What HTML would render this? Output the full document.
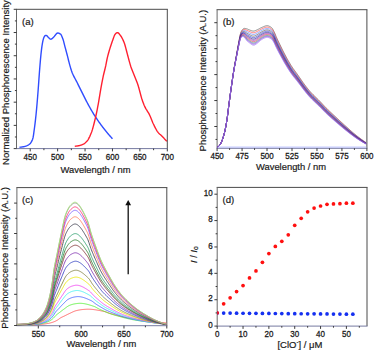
<!DOCTYPE html>
<html><head><meta charset="utf-8"><style>html,body{margin:0;padding:0;background:#fff;width:375px;height:351px;overflow:hidden}svg{display:block}</style></head>
<body><svg width="375" height="351" viewBox="0 0 375 351" font-family='"Liberation Sans", sans-serif' fill="#1a1a1a">
<rect width="375" height="351" fill="#fff"/>
<path d="M19.50 147.20L20.00 147.19L20.50 147.16L21.00 147.11L21.50 147.05L22.00 146.97L22.50 146.89L23.00 146.80L23.50 146.70L24.00 146.60L24.50 146.49L25.00 146.36L25.50 146.21L26.00 146.04L26.50 145.85L27.00 145.63L27.50 145.39L28.00 145.12L28.50 144.83L29.00 144.51L29.50 144.15L30.00 143.71L30.50 143.16L31.00 142.48L31.50 141.66L32.00 140.68L32.50 139.52L33.00 137.91L33.50 135.05L34.00 131.46L34.50 127.77L35.00 123.89L35.50 119.60L36.00 114.96L36.50 109.91L37.00 104.29L37.50 98.26L38.00 92.00L38.50 85.25L39.00 78.10L39.50 71.27L40.00 65.03L40.50 59.13L41.00 54.00L41.50 49.62L42.00 45.85L42.50 42.90L43.00 40.44L43.50 38.58L44.00 37.28L44.50 36.21L45.00 35.63L45.50 35.55L46.00 35.51L46.50 35.53L47.00 35.85L47.50 36.39L48.00 36.99L48.50 37.50L49.00 37.96L49.50 38.45L50.00 38.87L50.50 39.15L51.00 39.18L51.50 38.99L52.00 38.63L52.50 38.17L53.00 37.67L53.50 37.18L54.00 36.72L54.50 36.15L55.00 35.50L55.50 34.83L56.00 34.20L56.50 33.65L57.00 33.24L57.50 33.02L58.00 33.02L58.50 33.11L59.00 33.27L59.50 33.50L60.00 33.78L60.50 34.10L61.00 34.64L61.50 35.53L62.00 36.66L62.50 37.92L63.00 39.26L63.50 40.91L64.00 42.83L64.50 44.85L65.00 46.82L65.50 48.68L66.00 50.54L66.50 52.40L67.00 54.27L67.50 56.19L68.00 58.18L68.50 60.22L69.00 62.20L69.50 64.06L70.00 65.85L70.50 67.60L71.00 69.27L71.50 70.82L72.00 72.20L72.50 73.43L73.00 74.57L73.50 75.64L74.00 76.64L74.50 77.60L75.00 78.54L75.50 79.46L76.00 80.38L76.50 81.32L77.00 82.30L77.50 83.31L78.00 84.32L78.50 85.33L79.00 86.35L79.50 87.36L80.00 88.38L80.50 89.39L81.00 90.40L81.50 91.41L82.00 92.42L82.50 93.42L83.00 94.42L83.50 95.41L84.00 96.40L84.50 97.38L85.00 98.37L85.50 99.36L86.00 100.34L86.50 101.32L87.00 102.28L87.50 103.23L88.00 104.17L88.50 105.08L89.00 105.99L89.50 106.88L90.00 107.77L90.50 108.66L91.00 109.53L91.50 110.40L92.00 111.26L92.50 112.11L93.00 112.94L93.50 113.77L94.00 114.58L94.50 115.38L95.00 116.17L95.50 116.95L96.00 117.71L96.50 118.46L97.00 119.20L97.50 119.93L98.00 120.66L98.50 121.37L99.00 122.08L99.50 122.77L100.00 123.46L100.50 124.15L101.00 124.82L101.50 125.49L102.00 126.15L102.50 126.81L103.00 127.46L103.50 128.11L104.00 128.75L104.50 129.38L105.00 130.01L105.50 130.64L106.00 131.25L106.50 131.87L107.00 132.48L107.50 133.08L108.00 133.68L108.50 134.27L109.00 134.86L109.50 135.43L110.00 136.01L110.50 136.58L111.00 137.14L111.50 137.69L112.00 138.24L112.50 138.78" fill="none" stroke="#2f4cff" stroke-width="1.4" stroke-linejoin="round"/>
<path d="M74.80 146.20L75.30 146.19L75.80 146.16L76.30 146.12L76.80 146.06L77.30 145.99L77.80 145.91L78.30 145.81L78.80 145.70L79.30 145.58L79.80 145.45L80.30 145.31L80.80 145.17L81.30 145.02L81.80 144.86L82.30 144.70L82.80 144.48L83.30 144.23L83.80 143.92L84.30 143.58L84.80 143.20L85.30 142.78L85.80 142.33L86.30 141.84L86.80 141.32L87.30 140.77L87.80 140.11L88.30 139.32L88.80 138.43L89.30 137.44L89.80 136.37L90.30 135.22L90.80 134.01L91.30 132.76L91.80 131.41L92.30 129.89L92.80 128.23L93.30 126.43L93.80 124.52L94.30 122.53L94.80 120.47L95.30 118.37L95.80 116.24L96.30 113.98L96.80 111.59L97.30 109.08L97.80 106.49L98.30 103.81L98.80 100.95L99.30 97.94L99.80 94.88L100.30 91.84L100.80 88.92L101.30 86.16L101.80 83.46L102.30 80.83L102.80 78.32L103.30 75.94L103.80 73.75L104.30 71.71L104.80 69.71L105.30 67.66L105.80 65.47L106.30 62.95L106.80 60.25L107.30 57.94L107.80 55.89L108.30 53.98L108.80 52.19L109.30 50.48L109.80 48.83L110.30 47.22L110.80 45.67L111.30 44.18L111.80 42.75L112.30 41.35L112.80 40.00L113.30 38.59L113.80 37.13L114.30 35.79L114.80 34.73L115.30 34.07L115.80 33.54L116.30 33.08L116.80 32.75L117.30 32.60L117.80 32.67L118.30 32.96L118.80 33.40L119.30 33.97L119.80 34.63L120.30 35.32L120.80 36.00L121.30 36.72L121.80 37.55L122.30 38.48L122.80 39.50L123.30 40.61L123.80 41.80L124.30 43.06L124.80 44.54L125.30 46.23L125.80 48.08L126.30 50.02L126.80 51.98L127.30 53.90L127.80 55.73L128.30 57.59L128.80 59.48L129.30 61.36L129.80 63.19L130.30 64.91L130.80 66.50L131.30 67.94L131.80 69.29L132.30 70.57L132.80 71.80L133.30 73.00L133.80 74.21L134.30 75.44L134.80 76.71L135.30 77.96L135.80 79.20L136.30 80.45L136.80 81.73L137.30 83.07L137.80 84.50L138.30 86.07L138.80 87.80L139.30 89.63L139.80 91.52L140.30 93.42L140.80 95.29L141.30 97.09L141.80 98.77L142.30 100.29L142.80 101.71L143.30 103.07L143.80 104.36L144.30 105.56L144.80 106.68L145.30 107.70L145.80 108.61L146.30 109.45L146.80 110.24L147.30 111.01L147.80 111.78L148.30 112.59L148.80 113.45L149.30 114.40L149.80 115.45L150.30 116.59L150.80 117.80L151.30 119.03L151.80 120.28L152.30 121.50L152.80 122.68L153.30 123.78L153.80 124.81L154.30 125.83L154.80 126.84L155.30 127.83L155.80 128.78L156.30 129.69L156.80 130.54L157.30 131.31L157.80 132.00L158.30 132.61L158.80 133.16L159.30 133.67L159.80 134.15L160.30 134.60L160.80 135.06L161.30 135.51L161.80 136.00L162.30 136.51L162.80 137.03L163.30 137.56L163.80 138.09L164.30 138.63L164.80 139.17L165.30 139.71L165.80 140.26L166.30 140.82L166.80 141.38" fill="none" stroke="#ff2030" stroke-width="1.4" stroke-linejoin="round"/>
<line x1="16.0" y1="9.3" x2="167.8" y2="9.3" stroke="#4a4a4a" stroke-width="1"/>
<line x1="167.3" y1="9.3" x2="167.3" y2="148.6" stroke="#4a4a4a" stroke-width="1"/>
<line x1="16.5" y1="9.3" x2="16.5" y2="148.6" stroke="#686868" stroke-width="1"/>
<line x1="16.0" y1="148.6" x2="167.8" y2="148.6" stroke="#767aa0" stroke-width="1"/>
<line x1="30.21" y1="148.6" x2="30.21" y2="151.4" stroke="#252525" stroke-width="0.9"/>
<line x1="57.63" y1="148.6" x2="57.63" y2="151.4" stroke="#252525" stroke-width="0.9"/>
<line x1="85.05" y1="148.6" x2="85.05" y2="151.4" stroke="#252525" stroke-width="0.9"/>
<line x1="112.46" y1="148.6" x2="112.46" y2="151.4" stroke="#252525" stroke-width="0.9"/>
<line x1="139.88" y1="148.6" x2="139.88" y2="151.4" stroke="#252525" stroke-width="0.9"/>
<line x1="167.30" y1="148.6" x2="167.30" y2="151.4" stroke="#252525" stroke-width="0.9"/>
<line x1="43.92" y1="148.6" x2="43.92" y2="150.2" stroke="#252525" stroke-width="0.9"/>
<line x1="71.34" y1="148.6" x2="71.34" y2="150.2" stroke="#252525" stroke-width="0.9"/>
<line x1="98.75" y1="148.6" x2="98.75" y2="150.2" stroke="#252525" stroke-width="0.9"/>
<line x1="126.17" y1="148.6" x2="126.17" y2="150.2" stroke="#252525" stroke-width="0.9"/>
<line x1="153.59" y1="148.6" x2="153.59" y2="150.2" stroke="#252525" stroke-width="0.9"/>
<line x1="16.5" y1="148.60" x2="13.7" y2="148.60" stroke="#252525" stroke-width="0.9"/>
<line x1="16.5" y1="125.38" x2="13.7" y2="125.38" stroke="#252525" stroke-width="0.9"/>
<line x1="16.5" y1="102.17" x2="13.7" y2="102.17" stroke="#252525" stroke-width="0.9"/>
<line x1="16.5" y1="78.95" x2="13.7" y2="78.95" stroke="#252525" stroke-width="0.9"/>
<line x1="16.5" y1="55.73" x2="13.7" y2="55.73" stroke="#252525" stroke-width="0.9"/>
<line x1="16.5" y1="32.52" x2="13.7" y2="32.52" stroke="#252525" stroke-width="0.9"/>
<line x1="16.5" y1="9.30" x2="13.7" y2="9.30" stroke="#252525" stroke-width="0.9"/>
<line x1="16.5" y1="136.99" x2="14.9" y2="136.99" stroke="#252525" stroke-width="0.9"/>
<line x1="16.5" y1="113.78" x2="14.9" y2="113.78" stroke="#252525" stroke-width="0.9"/>
<line x1="16.5" y1="90.56" x2="14.9" y2="90.56" stroke="#252525" stroke-width="0.9"/>
<line x1="16.5" y1="67.34" x2="14.9" y2="67.34" stroke="#252525" stroke-width="0.9"/>
<line x1="16.5" y1="44.12" x2="14.9" y2="44.12" stroke="#252525" stroke-width="0.9"/>
<line x1="16.5" y1="20.91" x2="14.9" y2="20.91" stroke="#252525" stroke-width="0.9"/>
<text transform="translate(30.21,160.00) scale(1,1.07)" font-size="8" stroke="#1a1a1a" stroke-width="0.26" text-anchor="middle" >450</text>
<text transform="translate(57.63,160.00) scale(1,1.07)" font-size="8" stroke="#1a1a1a" stroke-width="0.26" text-anchor="middle" >500</text>
<text transform="translate(85.05,160.00) scale(1,1.07)" font-size="8" stroke="#1a1a1a" stroke-width="0.26" text-anchor="middle" >550</text>
<text transform="translate(112.46,160.00) scale(1,1.07)" font-size="8" stroke="#1a1a1a" stroke-width="0.26" text-anchor="middle" >600</text>
<text transform="translate(139.88,160.00) scale(1,1.07)" font-size="8" stroke="#1a1a1a" stroke-width="0.26" text-anchor="middle" >650</text>
<text transform="translate(167.30,160.00) scale(1,1.07)" font-size="8" stroke="#1a1a1a" stroke-width="0.26" text-anchor="middle" >700</text>
<text x="60.60" y="172.80" font-size="9.4" stroke="#1a1a1a" stroke-width="0.2" text-anchor="start" >Wavelength / nm</text>
<text transform="translate(8.90,164.90) rotate(-90)" font-size="9.5" stroke="#1a1a1a" stroke-width="0.2" text-anchor="start" >Normalized Phosphorescence Intensity</text>
<text x="22.00" y="24.50" font-size="9.6" stroke="#1a1a1a" stroke-width="0.2" text-anchor="start" >(a)</text>
<line x1="216.6" y1="9.7" x2="367.4" y2="9.7" stroke="#4a4a4a" stroke-width="1"/>
<line x1="366.9" y1="9.7" x2="366.9" y2="148.3" stroke="#4a4a4a" stroke-width="1"/>
<line x1="217.1" y1="9.7" x2="217.1" y2="148.3" stroke="#686868" stroke-width="1"/>
<line x1="216.6" y1="148.3" x2="367.4" y2="148.3" stroke="#767aa0" stroke-width="1"/>
<line x1="217.6" y1="147.1" x2="366.4" y2="147.1" stroke="#b0b8ff" stroke-width="0.9"/>
<path d="M217.10 147.50L217.60 147.22L218.10 146.85L218.60 146.40L219.10 145.89L219.60 145.29L220.10 144.57L220.60 143.74L221.10 142.80L221.60 141.72L222.10 140.48L222.60 139.09L223.10 137.56L223.60 135.90L224.10 134.12L224.60 132.21L225.10 130.04L225.60 127.58L226.10 124.88L226.60 121.97L227.10 118.85L227.60 115.20L228.10 111.13L228.60 107.05L229.10 103.24L229.60 99.51L230.10 95.82L230.60 92.19L231.10 88.61L231.60 85.10L232.10 81.60L232.60 78.14L233.10 74.76L233.60 71.50L234.10 68.39L234.60 65.47L235.10 62.67L235.60 59.94L236.10 57.22L236.60 54.44L237.10 51.57L237.60 48.68L238.10 45.83L238.60 43.06L239.10 40.37L239.60 37.59L240.10 35.10L240.60 33.30L241.10 31.93L241.60 30.81L242.10 30.01L242.60 29.48L243.10 29.02L243.60 28.65L244.10 28.44L244.60 28.40L245.10 28.45L245.60 28.54L246.10 28.66L246.60 28.79L247.10 28.93L247.60 29.12L248.10 29.35L248.60 29.59L249.10 29.80L249.60 29.99L250.10 30.19L250.60 30.39L251.10 30.59L251.60 30.77L252.10 30.91L252.60 31.03L253.10 31.09L253.60 31.09L254.10 31.03L254.60 30.91L255.10 30.73L255.60 30.53L256.10 30.30L256.60 30.06L257.10 29.82L257.60 29.60L258.10 29.37L258.60 29.12L259.10 28.85L259.60 28.57L260.10 28.29L260.60 28.02L261.10 27.76L261.60 27.53L262.10 27.32L262.60 27.11L263.10 26.88L263.60 26.66L264.10 26.45L264.60 26.25L265.10 26.07L265.60 25.92L266.10 25.80L266.60 25.73L267.10 25.70L267.60 25.73L268.10 25.82L268.60 25.97L269.10 26.16L269.60 26.40L270.10 26.67L270.60 26.97L271.10 27.30L271.60 27.66L272.10 28.21L272.60 28.95L273.10 29.81L273.60 30.74L274.10 31.69L274.60 32.78L275.10 34.01L275.60 35.25L276.10 36.43L276.60 37.54L277.10 38.64L277.60 39.73L278.10 40.80L278.60 41.87L279.10 42.92L279.60 43.96L280.10 45.00L280.60 46.03L281.10 47.06L281.60 48.08L282.10 49.10L282.60 50.11L283.10 51.11L283.60 52.09L284.10 53.07L284.60 54.03L285.10 54.98L285.60 55.92L286.10 56.83L286.60 57.75L287.10 58.65L287.60 59.54L288.10 60.43L288.60 61.30L289.10 62.16L289.60 63.01L290.10 63.84L290.60 64.66L291.10 65.46L291.60 66.25L292.10 67.01L292.60 67.75L293.10 68.47L293.60 69.17L294.10 69.86L294.60 70.54L295.10 71.22L295.60 71.90L296.10 72.58L296.60 73.26L297.10 73.96L297.60 74.67L298.10 75.38L298.60 76.10L299.10 76.83L299.60 77.56L300.10 78.28L300.60 79.01L301.10 79.74L301.60 80.46L302.10 81.18L302.60 81.89L303.10 82.59L303.60 83.28L304.10 83.96L304.60 84.63L305.10 85.30L305.60 85.96L306.10 86.61L306.60 87.26L307.10 87.90L307.60 88.53L308.10 89.15L308.60 89.76L309.10 90.36L309.60 90.94L310.10 91.51L310.60 92.07L311.10 92.60L311.60 93.13L312.10 93.65L312.60 94.16L313.10 94.66L313.60 95.15L314.10 95.64L314.60 96.12L315.10 96.60L315.60 97.08L316.10 97.56L316.60 98.04L317.10 98.52L317.60 99.00L318.10 99.49L318.60 99.98L319.10 100.48L319.60 100.99L320.10 101.50L320.60 102.03L321.10 102.57L321.60 103.11L322.10 103.66L322.60 104.21L323.10 104.76L323.60 105.30L324.10 105.84L324.60 106.37L325.10 106.89L325.60 107.40L326.10 107.90L326.60 108.40L327.10 108.89L327.60 109.38L328.10 109.86L328.60 110.34L329.10 110.82L329.60 111.29L330.10 111.76L330.60 112.23L331.10 112.70L331.60 113.16L332.10 113.63L332.60 114.09L333.10 114.55L333.60 115.02L334.10 115.48L334.60 115.95L335.10 116.41L335.60 116.88L336.10 117.35L336.60 117.82L337.10 118.28L337.60 118.75L338.10 119.21L338.60 119.68L339.10 120.14L339.60 120.61L340.10 121.07L340.60 121.53L341.10 121.99L341.60 122.46L342.10 122.91L342.60 123.37L343.10 123.83L343.60 124.28L344.10 124.74L344.60 125.19L345.10 125.64L345.60 126.09L346.10 126.54L346.60 126.99L347.10 127.44L347.60 127.89L348.10 128.34L348.60 128.79L349.10 129.24L349.60 129.69L350.10 130.13L350.60 130.58L351.10 131.02L351.60 131.46L352.10 131.89L352.60 132.33L353.10 132.76L353.60 133.18L354.10 133.60L354.60 134.02L355.10 134.43L355.60 134.84L356.10 135.24L356.60 135.64L357.10 136.04L357.60 136.43L358.10 136.82L358.60 137.21L359.10 137.59L359.60 137.97L360.10 138.35L360.60 138.73L361.10 139.10L361.60 139.47L362.10 139.84L362.60 140.20L363.10 140.57L363.60 140.92L364.10 141.28L364.60 141.63L365.10 141.98L365.60 142.32L366.10 142.66" fill="none" stroke="#606060" stroke-width="0.7"/>
<path d="M217.10 147.50L217.60 147.22L218.10 146.85L218.60 146.40L219.10 145.89L219.60 145.29L220.10 144.57L220.60 143.74L221.10 142.80L221.60 141.72L222.10 140.48L222.60 139.09L223.10 137.56L223.60 135.90L224.10 134.12L224.60 132.21L225.10 130.04L225.60 127.58L226.10 124.88L226.60 121.97L227.10 118.85L227.60 115.20L228.10 111.13L228.60 107.05L229.10 103.24L229.60 99.51L230.10 95.82L230.60 92.19L231.10 88.62L231.60 85.11L232.10 81.63L232.60 78.18L233.10 74.82L233.60 71.57L234.10 68.49L234.60 65.58L235.10 62.81L235.60 60.11L236.10 57.42L236.60 54.67L237.10 51.84L237.60 48.99L238.10 46.18L238.60 43.47L239.10 40.82L239.60 38.10L240.10 35.67L240.60 33.92L241.10 32.60L241.60 31.54L242.10 30.80L242.60 30.33L243.10 29.93L243.60 29.63L244.10 29.48L244.60 29.51L245.10 29.62L245.60 29.78L246.10 29.97L246.60 30.18L247.10 30.38L247.60 30.59L248.10 30.84L248.60 31.10L249.10 31.33L249.60 31.55L250.10 31.77L250.60 31.99L251.10 32.21L251.60 32.41L252.10 32.57L252.60 32.70L253.10 32.77L253.60 32.78L254.10 32.72L254.60 32.59L255.10 32.42L255.60 32.20L256.10 31.96L256.60 31.70L257.10 31.44L257.60 31.20L258.10 30.95L258.60 30.68L259.10 30.39L259.60 30.09L260.10 29.79L260.60 29.50L261.10 29.23L261.60 28.98L262.10 28.76L262.60 28.53L263.10 28.31L263.60 28.08L264.10 27.86L264.60 27.66L265.10 27.48L265.60 27.32L266.10 27.20L266.60 27.13L267.10 27.10L267.60 27.13L268.10 27.22L268.60 27.36L269.10 27.56L269.60 27.79L270.10 28.06L270.60 28.35L271.10 28.68L271.60 29.03L272.10 29.58L272.60 30.31L273.10 31.16L273.60 32.08L274.10 33.02L274.60 34.10L275.10 35.31L275.60 36.54L276.10 37.70L276.60 38.80L277.10 39.89L277.60 40.97L278.10 42.03L278.60 43.08L279.10 44.12L279.60 45.15L280.10 46.18L280.60 47.20L281.10 48.21L281.60 49.22L282.10 50.23L282.60 51.23L283.10 52.21L283.60 53.19L284.10 54.16L284.60 55.11L285.10 56.05L285.60 56.97L286.10 57.88L286.60 58.78L287.10 59.67L287.60 60.56L288.10 61.43L288.60 62.29L289.10 63.15L289.60 63.98L290.10 64.81L290.60 65.62L291.10 66.41L291.60 67.18L292.10 67.93L292.60 68.66L293.10 69.38L293.60 70.07L294.10 70.75L294.60 71.43L295.10 72.10L295.60 72.77L296.10 73.44L296.60 74.12L297.10 74.81L297.60 75.51L298.10 76.21L298.60 76.93L299.10 77.64L299.60 78.36L300.10 79.08L300.60 79.80L301.10 80.52L301.60 81.24L302.10 81.95L302.60 82.65L303.10 83.35L303.60 84.04L304.10 84.71L304.60 85.38L305.10 86.04L305.60 86.69L306.10 87.35L306.60 87.99L307.10 88.63L307.60 89.26L308.10 89.87L308.60 90.48L309.10 91.08L309.60 91.66L310.10 92.22L310.60 92.77L311.10 93.31L311.60 93.83L312.10 94.35L312.60 94.86L313.10 95.36L313.60 95.85L314.10 96.33L314.60 96.82L315.10 97.29L315.60 97.77L316.10 98.25L316.60 98.72L317.10 99.20L317.60 99.68L318.10 100.17L318.60 100.66L319.10 101.16L319.60 101.66L320.10 102.18L320.60 102.70L321.10 103.24L321.60 103.78L322.10 104.32L322.60 104.87L323.10 105.41L323.60 105.96L324.10 106.49L324.60 107.02L325.10 107.54L325.60 108.05L326.10 108.55L326.60 109.04L327.10 109.53L327.60 110.01L328.10 110.49L328.60 110.97L329.10 111.44L329.60 111.91L330.10 112.38L330.60 112.85L331.10 113.31L331.60 113.77L332.10 114.23L332.60 114.69L333.10 115.15L333.60 115.61L334.10 116.08L334.60 116.54L335.10 117.00L335.60 117.46L336.10 117.93L336.60 118.39L337.10 118.85L337.60 119.31L338.10 119.78L338.60 120.24L339.10 120.70L339.60 121.16L340.10 121.61L340.60 122.07L341.10 122.53L341.60 122.98L342.10 123.44L342.60 123.89L343.10 124.34L343.60 124.79L344.10 125.24L344.60 125.68L345.10 126.13L345.60 126.57L346.10 127.02L346.60 127.46L347.10 127.90L347.60 128.35L348.10 128.79L348.60 129.23L349.10 129.68L349.60 130.12L350.10 130.56L350.60 130.99L351.10 131.43L351.60 131.86L352.10 132.29L352.60 132.71L353.10 133.14L353.60 133.55L354.10 133.97L354.60 134.38L355.10 134.78L355.60 135.18L356.10 135.57L356.60 135.96L357.10 136.35L357.60 136.74L358.10 137.12L358.60 137.50L359.10 137.88L359.60 138.25L360.10 138.62L360.60 138.99L361.10 139.36L361.60 139.72L362.10 140.08L362.60 140.43L363.10 140.78L363.60 141.13L364.10 141.48L364.60 141.82L365.10 142.16L365.60 142.50L366.10 142.83" fill="none" stroke="#ff4040" stroke-width="0.7"/>
<path d="M217.10 147.50L217.60 147.22L218.10 146.85L218.60 146.40L219.10 145.89L219.60 145.29L220.10 144.57L220.60 143.74L221.10 142.80L221.60 141.72L222.10 140.48L222.60 139.09L223.10 137.56L223.60 135.90L224.10 134.12L224.60 132.21L225.10 130.04L225.60 127.58L226.10 124.88L226.60 121.97L227.10 118.85L227.60 115.20L228.10 111.13L228.60 107.05L229.10 103.24L229.60 99.51L230.10 95.82L230.60 92.20L231.10 88.63L231.60 85.13L232.10 81.65L232.60 78.22L233.10 74.87L233.60 71.65L234.10 68.58L234.60 65.70L235.10 62.96L235.60 60.28L236.10 57.62L236.60 54.91L237.10 52.12L237.60 49.31L238.10 46.54L238.60 43.87L239.10 41.28L239.60 38.61L240.10 36.23L240.60 34.54L241.10 33.28L241.60 32.27L242.10 31.59L242.60 31.18L243.10 30.84L243.60 30.60L244.10 30.51L244.60 30.61L245.10 30.79L245.60 31.02L246.10 31.29L246.60 31.57L247.10 31.84L247.60 32.06L248.10 32.33L248.60 32.61L249.10 32.87L249.60 33.10L250.10 33.35L250.60 33.60L251.10 33.83L251.60 34.05L252.10 34.23L252.60 34.37L253.10 34.45L253.60 34.47L254.10 34.41L254.60 34.28L255.10 34.10L255.60 33.87L256.10 33.61L256.60 33.34L257.10 33.07L257.60 32.80L258.10 32.53L258.60 32.24L259.10 31.92L259.60 31.60L260.10 31.29L260.60 30.98L261.10 30.69L261.60 30.43L262.10 30.19L262.60 29.96L263.10 29.73L263.60 29.49L264.10 29.27L264.60 29.07L265.10 28.88L265.60 28.73L266.10 28.61L266.60 28.53L267.10 28.50L267.60 28.53L268.10 28.62L268.60 28.76L269.10 28.95L269.60 29.18L270.10 29.44L270.60 29.74L271.10 30.05L271.60 30.41L272.10 30.95L272.60 31.67L273.10 32.51L273.60 33.42L274.10 34.35L274.60 35.42L275.10 36.61L275.60 37.83L276.10 38.98L276.60 40.07L277.10 41.14L277.60 42.21L278.10 43.26L278.60 44.29L279.10 45.32L279.60 46.34L280.10 47.36L280.60 48.36L281.10 49.37L281.60 50.37L282.10 51.36L282.60 52.34L283.10 53.32L283.60 54.29L284.10 55.24L284.60 56.18L285.10 57.11L285.60 58.02L286.10 58.92L286.60 59.81L287.10 60.69L287.60 61.57L288.10 62.43L288.60 63.29L289.10 64.13L289.60 64.96L290.10 65.77L290.60 66.57L291.10 67.35L291.60 68.12L292.10 68.86L292.60 69.58L293.10 70.29L293.60 70.97L294.10 71.65L294.60 72.32L295.10 72.98L295.60 73.64L296.10 74.30L296.60 74.97L297.10 75.65L297.60 76.35L298.10 77.04L298.60 77.75L299.10 78.46L299.60 79.17L300.10 79.88L300.60 80.59L301.10 81.31L301.60 82.01L302.10 82.72L302.60 83.42L303.10 84.11L303.60 84.79L304.10 85.47L304.60 86.13L305.10 86.78L305.60 87.43L306.10 88.08L306.60 88.72L307.10 89.35L307.60 89.98L308.10 90.59L308.60 91.20L309.10 91.79L309.60 92.37L310.10 92.93L310.60 93.48L311.10 94.01L311.60 94.54L312.10 95.05L312.60 95.56L313.10 96.05L313.60 96.54L314.10 97.03L314.60 97.51L315.10 97.99L315.60 98.46L316.10 98.94L316.60 99.41L317.10 99.89L317.60 100.37L318.10 100.85L318.60 101.34L319.10 101.84L319.60 102.34L320.10 102.85L320.60 103.38L321.10 103.91L321.60 104.45L322.10 104.99L322.60 105.53L323.10 106.07L323.60 106.61L324.10 107.15L324.60 107.67L325.10 108.19L325.60 108.69L326.10 109.19L326.60 109.68L327.10 110.16L327.60 110.65L328.10 111.12L328.60 111.60L329.10 112.07L329.60 112.54L330.10 113.00L330.60 113.46L331.10 113.92L331.60 114.38L332.10 114.84L332.60 115.30L333.10 115.76L333.60 116.21L334.10 116.67L334.60 117.13L335.10 117.59L335.60 118.05L336.10 118.50L336.60 118.96L337.10 119.42L337.60 119.88L338.10 120.34L338.60 120.79L339.10 121.25L339.60 121.70L340.10 122.16L340.60 122.61L341.10 123.06L341.60 123.51L342.10 123.96L342.60 124.41L343.10 124.85L343.60 125.30L344.10 125.74L344.60 126.18L345.10 126.62L345.60 127.06L346.10 127.49L346.60 127.93L347.10 128.37L347.60 128.81L348.10 129.24L348.60 129.68L349.10 130.11L349.60 130.55L350.10 130.98L350.60 131.41L351.10 131.84L351.60 132.26L352.10 132.68L352.60 133.10L353.10 133.51L353.60 133.93L354.10 134.33L354.60 134.73L355.10 135.13L355.60 135.52L356.10 135.91L356.60 136.29L357.10 136.67L357.60 137.05L358.10 137.42L358.60 137.79L359.10 138.16L359.60 138.53L360.10 138.89L360.60 139.25L361.10 139.61L361.60 139.96L362.10 140.31L362.60 140.66L363.10 141.00L363.60 141.34L364.10 141.68L364.60 142.01L365.10 142.35L365.60 142.67L366.10 143.00" fill="none" stroke="#6080ff" stroke-width="0.7"/>
<path d="M217.10 147.50L217.60 147.22L218.10 146.85L218.60 146.40L219.10 145.89L219.60 145.29L220.10 144.57L220.60 143.74L221.10 142.80L221.60 141.72L222.10 140.48L222.60 139.09L223.10 137.56L223.60 135.90L224.10 134.12L224.60 132.21L225.10 130.04L225.60 127.58L226.10 124.88L226.60 121.97L227.10 118.85L227.60 115.20L228.10 111.13L228.60 107.05L229.10 103.24L229.60 99.51L230.10 95.82L230.60 92.20L231.10 88.64L231.60 85.15L232.10 81.68L232.60 78.26L233.10 74.93L233.60 71.72L234.10 68.67L234.60 65.82L235.10 63.10L235.60 60.46L236.10 57.82L236.60 55.14L237.10 52.39L237.60 49.62L238.10 46.90L238.60 44.28L239.10 41.73L239.60 39.11L240.10 36.79L240.60 35.16L241.10 33.95L241.60 33.00L242.10 32.38L242.60 32.03L243.10 31.75L243.60 31.57L244.10 31.55L244.60 31.71L245.10 31.96L245.60 32.26L246.10 32.60L246.60 32.96L247.10 33.30L247.60 33.54L248.10 33.83L248.60 34.13L249.10 34.40L249.60 34.66L250.10 34.93L250.60 35.20L251.10 35.45L251.60 35.69L252.10 35.88L252.60 36.04L253.10 36.13L253.60 36.15L254.10 36.10L254.60 35.97L255.10 35.78L255.60 35.54L256.10 35.27L256.60 34.98L257.10 34.69L257.60 34.40L258.10 34.11L258.60 33.79L259.10 33.46L259.60 33.12L260.10 32.78L260.60 32.46L261.10 32.15L261.60 31.88L262.10 31.63L262.60 31.39L263.10 31.15L263.60 30.91L264.10 30.68L264.60 30.47L265.10 30.29L265.60 30.13L266.10 30.01L266.60 29.93L267.10 29.90L267.60 29.93L268.10 30.02L268.60 30.16L269.10 30.34L269.60 30.57L270.10 30.83L270.60 31.12L271.10 31.43L271.60 31.78L272.10 32.32L272.60 33.03L273.10 33.86L273.60 34.76L274.10 35.68L274.60 36.73L275.10 37.91L275.60 39.12L276.10 40.25L276.60 41.33L277.10 42.39L277.60 43.44L278.10 44.48L278.60 45.51L279.10 46.52L279.60 47.53L280.10 48.53L280.60 49.53L281.10 50.52L281.60 51.51L282.10 52.49L282.60 53.46L283.10 54.43L283.60 55.38L284.10 56.33L284.60 57.26L285.10 58.17L285.60 59.08L286.10 59.96L286.60 60.84L287.10 61.72L287.60 62.58L288.10 63.43L288.60 64.28L289.10 65.11L289.60 65.93L290.10 66.73L290.60 67.52L291.10 68.30L291.60 69.05L292.10 69.79L292.60 70.50L293.10 71.20L293.60 71.88L294.10 72.54L294.60 73.20L295.10 73.86L295.60 74.51L296.10 75.17L296.60 75.83L297.10 76.50L297.60 77.19L298.10 77.88L298.60 78.57L299.10 79.27L299.60 79.97L300.10 80.68L300.60 81.38L301.10 82.09L301.60 82.79L302.10 83.49L302.60 84.19L303.10 84.87L303.60 85.55L304.10 86.22L304.60 86.87L305.10 87.52L305.60 88.17L306.10 88.81L306.60 89.45L307.10 90.08L307.60 90.70L308.10 91.31L308.60 91.91L309.10 92.50L309.60 93.08L310.10 93.64L310.60 94.18L311.10 94.72L311.60 95.24L312.10 95.75L312.60 96.25L313.10 96.75L313.60 97.24L314.10 97.72L314.60 98.20L315.10 98.68L315.60 99.15L316.10 99.62L316.60 100.10L317.10 100.57L317.60 101.05L318.10 101.54L318.60 102.02L319.10 102.52L319.60 103.02L320.10 103.53L320.60 104.05L321.10 104.58L321.60 105.11L322.10 105.65L322.60 106.19L323.10 106.73L323.60 107.27L324.10 107.80L324.60 108.32L325.10 108.83L325.60 109.33L326.10 109.83L326.60 110.32L327.10 110.80L327.60 111.28L328.10 111.75L328.60 112.23L329.10 112.69L329.60 113.16L330.10 113.62L330.60 114.08L331.10 114.54L331.60 114.99L332.10 115.45L332.60 115.90L333.10 116.36L333.60 116.81L334.10 117.26L334.60 117.72L335.10 118.17L335.60 118.63L336.10 119.08L336.60 119.54L337.10 119.99L337.60 120.45L338.10 120.90L338.60 121.35L339.10 121.80L339.60 122.25L340.10 122.70L340.60 123.15L341.10 123.59L341.60 124.04L342.10 124.48L342.60 124.92L343.10 125.36L343.60 125.80L344.10 126.24L344.60 126.67L345.10 127.11L345.60 127.54L346.10 127.97L346.60 128.40L347.10 128.83L347.60 129.26L348.10 129.69L348.60 130.12L349.10 130.55L349.60 130.98L350.10 131.40L350.60 131.83L351.10 132.25L351.60 132.66L352.10 133.08L352.60 133.49L353.10 133.89L353.60 134.30L354.10 134.70L354.60 135.09L355.10 135.48L355.60 135.86L356.10 136.24L356.60 136.62L357.10 136.99L357.60 137.36L358.10 137.72L358.60 138.09L359.10 138.45L359.60 138.81L360.10 139.16L360.60 139.51L361.10 139.86L361.60 140.21L362.10 140.55L362.60 140.89L363.10 141.22L363.60 141.55L364.10 141.88L364.60 142.21L365.10 142.53L365.60 142.85L366.10 143.16" fill="none" stroke="#505050" stroke-width="0.7"/>
<path d="M217.10 147.50L217.60 147.22L218.10 146.85L218.60 146.40L219.10 145.89L219.60 145.29L220.10 144.57L220.60 143.74L221.10 142.80L221.60 141.72L222.10 140.48L222.60 139.09L223.10 137.56L223.60 135.90L224.10 134.12L224.60 132.21L225.10 130.04L225.60 127.58L226.10 124.88L226.60 121.97L227.10 118.85L227.60 115.20L228.10 111.13L228.60 107.05L229.10 103.24L229.60 99.51L230.10 95.82L230.60 92.20L231.10 88.65L231.60 85.16L232.10 81.70L232.60 78.30L233.10 74.98L233.60 71.79L234.10 68.76L234.60 65.92L235.10 63.23L235.60 60.61L236.10 58.01L236.60 55.36L237.10 52.64L237.60 49.91L238.10 47.22L238.60 44.65L239.10 42.15L239.60 39.58L240.10 37.31L240.60 35.72L241.10 34.57L241.60 33.68L242.10 33.11L242.60 32.81L243.10 32.58L243.60 32.46L244.10 32.50L244.60 32.72L245.10 33.04L245.60 33.40L246.10 33.80L246.60 34.23L247.10 34.63L247.60 34.89L248.10 35.19L248.60 35.51L249.10 35.81L249.60 36.08L250.10 36.37L250.60 36.66L251.10 36.94L251.60 37.19L252.10 37.40L252.60 37.57L253.10 37.67L253.60 37.70L254.10 37.64L254.60 37.51L255.10 37.32L255.60 37.07L256.10 36.79L256.60 36.49L257.10 36.18L257.60 35.87L258.10 35.56L258.60 35.22L259.10 34.87L259.60 34.51L260.10 34.15L260.60 33.81L261.10 33.49L261.60 33.20L262.10 32.95L262.60 32.70L263.10 32.45L263.60 32.21L264.10 31.98L264.60 31.76L265.10 31.58L265.60 31.42L266.10 31.30L266.60 31.22L267.10 31.19L267.60 31.21L268.10 31.30L268.60 31.43L269.10 31.62L269.60 31.84L270.10 32.10L270.60 32.39L271.10 32.70L271.60 33.05L272.10 33.58L272.60 34.28L273.10 35.10L273.60 35.99L274.10 36.90L274.60 37.94L275.10 39.11L275.60 40.30L276.10 41.42L276.60 42.49L277.10 43.54L277.60 44.58L278.10 45.60L278.60 46.62L279.10 47.63L279.60 48.62L280.10 49.61L280.60 50.60L281.10 51.58L281.60 52.56L282.10 53.53L282.60 54.49L283.10 55.44L283.60 56.39L284.10 57.32L284.60 58.24L285.10 59.15L285.60 60.04L286.10 60.92L286.60 61.79L287.10 62.65L287.60 63.51L288.10 64.35L288.60 65.19L289.10 66.01L289.60 66.82L290.10 67.62L290.60 68.40L291.10 69.16L291.60 69.91L292.10 70.64L292.60 71.34L293.10 72.03L293.60 72.70L294.10 73.36L294.60 74.01L295.10 74.66L295.60 75.31L296.10 75.96L296.60 76.61L297.10 77.28L297.60 77.95L298.10 78.64L298.60 79.33L299.10 80.02L299.60 80.71L300.10 81.41L300.60 82.11L301.10 82.81L301.60 83.51L302.10 84.20L302.60 84.89L303.10 85.57L303.60 86.24L304.10 86.91L304.60 87.56L305.10 88.20L305.60 88.85L306.10 89.49L306.60 90.12L307.10 90.75L307.60 91.37L308.10 91.97L308.60 92.57L309.10 93.16L309.60 93.73L310.10 94.29L310.60 94.83L311.10 95.36L311.60 95.88L312.10 96.39L312.60 96.89L313.10 97.39L313.60 97.88L314.10 98.36L314.60 98.84L315.10 99.31L315.60 99.78L316.10 100.26L316.60 100.73L317.10 101.20L317.60 101.68L318.10 102.16L318.60 102.65L319.10 103.14L319.60 103.64L320.10 104.15L320.60 104.67L321.10 105.19L321.60 105.73L322.10 106.26L322.60 106.80L323.10 107.34L323.60 107.87L324.10 108.40L324.60 108.92L325.10 109.43L325.60 109.92L326.10 110.42L326.60 110.90L327.10 111.38L327.60 111.86L328.10 112.33L328.60 112.80L329.10 113.27L329.60 113.73L330.10 114.19L330.60 114.64L331.10 115.10L331.60 115.55L332.10 116.00L332.60 116.46L333.10 116.91L333.60 117.36L334.10 117.81L334.60 118.26L335.10 118.71L335.60 119.16L336.10 119.61L336.60 120.06L337.10 120.51L337.60 120.96L338.10 121.41L338.60 121.86L339.10 122.31L339.60 122.75L340.10 123.20L340.60 123.64L341.10 124.08L341.60 124.52L342.10 124.96L342.60 125.40L343.10 125.83L343.60 126.27L344.10 126.70L344.60 127.13L345.10 127.55L345.60 127.98L346.10 128.41L346.60 128.83L347.10 129.26L347.60 129.68L348.10 130.11L348.60 130.53L349.10 130.95L349.60 131.37L350.10 131.79L350.60 132.21L351.10 132.62L351.60 133.03L352.10 133.44L352.60 133.84L353.10 134.24L353.60 134.64L354.10 135.03L354.60 135.42L355.10 135.80L355.60 136.17L356.10 136.55L356.60 136.91L357.10 137.28L357.60 137.64L358.10 138.00L358.60 138.36L359.10 138.71L359.60 139.06L360.10 139.41L360.60 139.75L361.10 140.09L361.60 140.43L362.10 140.76L362.60 141.09L363.10 141.42L363.60 141.75L364.10 142.07L364.60 142.38L365.10 142.70L365.60 143.01L366.10 143.31" fill="none" stroke="#3030d0" stroke-width="0.7"/>
<path d="M217.10 147.50L217.60 147.22L218.10 146.85L218.60 146.40L219.10 145.89L219.60 145.29L220.10 144.57L220.60 143.74L221.10 142.80L221.60 141.72L222.10 140.48L222.60 139.09L223.10 137.56L223.60 135.90L224.10 134.12L224.60 132.21L225.10 130.04L225.60 127.58L226.10 124.88L226.60 121.97L227.10 118.85L227.60 115.20L228.10 111.13L228.60 107.05L229.10 103.24L229.60 99.51L230.10 95.82L230.60 92.20L231.10 88.65L231.60 85.18L232.10 81.73L232.60 78.33L233.10 75.02L233.60 71.85L234.10 68.84L234.60 66.02L235.10 63.35L235.60 60.75L236.10 58.18L236.60 55.55L237.10 52.87L237.60 50.17L238.10 47.52L238.60 44.98L239.10 42.52L239.60 40.00L240.10 37.78L240.60 36.24L241.10 35.13L241.60 34.29L242.10 33.76L242.60 33.51L243.10 33.34L243.60 33.27L244.10 33.36L244.60 33.64L245.10 34.01L245.60 34.43L246.10 34.90L246.60 35.39L247.10 35.85L247.60 36.11L248.10 36.44L248.60 36.77L249.10 37.08L249.60 37.38L250.10 37.69L250.60 38.00L251.10 38.29L251.60 38.56L252.10 38.78L252.60 38.96L253.10 39.07L253.60 39.10L254.10 39.05L254.60 38.92L255.10 38.72L255.60 38.47L256.10 38.18L256.60 37.86L257.10 37.53L257.60 37.21L258.10 36.88L258.60 36.52L259.10 36.15L259.60 35.77L260.10 35.40L260.60 35.04L261.10 34.71L261.60 34.41L262.10 34.15L262.60 33.89L263.10 33.63L263.60 33.38L264.10 33.15L264.60 32.94L265.10 32.75L265.60 32.59L266.10 32.47L266.60 32.39L267.10 32.35L267.60 32.38L268.10 32.46L268.60 32.60L269.10 32.78L269.60 33.00L270.10 33.26L270.60 33.54L271.10 33.85L271.60 34.19L272.10 34.72L272.60 35.41L273.10 36.23L273.60 37.11L274.10 38.01L274.60 39.04L275.10 40.19L275.60 41.38L276.10 42.48L276.60 43.54L277.10 44.58L277.60 45.61L278.10 46.63L278.60 47.63L279.10 48.63L279.60 49.61L280.10 50.59L280.60 51.57L281.10 52.54L281.60 53.51L282.10 54.47L282.60 55.42L283.10 56.37L283.60 57.30L284.10 58.23L284.60 59.14L285.10 60.04L285.60 60.92L286.10 61.79L286.60 62.65L287.10 63.50L287.60 64.35L288.10 65.19L288.60 66.01L289.10 66.83L289.60 67.63L290.10 68.42L290.60 69.19L291.10 69.95L291.60 70.69L292.10 71.41L292.60 72.11L293.10 72.79L293.60 73.45L294.10 74.11L294.60 74.75L295.10 75.39L295.60 76.03L296.10 76.68L296.60 77.33L297.10 77.98L297.60 78.65L298.10 79.33L298.60 80.01L299.10 80.70L299.60 81.39L300.10 82.08L300.60 82.77L301.10 83.46L301.60 84.15L302.10 84.84L302.60 85.53L303.10 86.20L303.60 86.87L304.10 87.53L304.60 88.18L305.10 88.82L305.60 89.46L306.10 90.10L306.60 90.73L307.10 91.35L307.60 91.97L308.10 92.57L308.60 93.17L309.10 93.75L309.60 94.32L310.10 94.88L310.60 95.42L311.10 95.95L311.60 96.47L312.10 96.98L312.60 97.48L313.10 97.97L313.60 98.45L314.10 98.94L314.60 99.41L315.10 99.89L315.60 100.36L316.10 100.83L316.60 101.30L317.10 101.77L317.60 102.25L318.10 102.73L318.60 103.21L319.10 103.71L319.60 104.20L320.10 104.71L320.60 105.23L321.10 105.75L321.60 106.28L322.10 106.82L322.60 107.35L323.10 107.88L323.60 108.42L324.10 108.94L324.60 109.46L325.10 109.97L325.60 110.46L326.10 110.95L326.60 111.43L327.10 111.91L327.60 112.39L328.10 112.86L328.60 113.32L329.10 113.79L329.60 114.25L330.10 114.70L330.60 115.16L331.10 115.61L331.60 116.06L332.10 116.51L332.60 116.96L333.10 117.41L333.60 117.85L334.10 118.30L334.60 118.75L335.10 119.20L335.60 119.65L336.10 120.09L336.60 120.54L337.10 120.99L337.60 121.44L338.10 121.88L338.60 122.32L339.10 122.77L339.60 123.21L340.10 123.65L340.60 124.09L341.10 124.52L341.60 124.96L342.10 125.39L342.60 125.83L343.10 126.26L343.60 126.69L344.10 127.11L344.60 127.54L345.10 127.96L345.60 128.38L346.10 128.80L346.60 129.22L347.10 129.64L347.60 130.06L348.10 130.48L348.60 130.90L349.10 131.32L349.60 131.73L350.10 132.14L350.60 132.55L351.10 132.96L351.60 133.37L352.10 133.77L352.60 134.16L353.10 134.56L353.60 134.95L354.10 135.33L354.60 135.71L355.10 136.09L355.60 136.46L356.10 136.82L356.60 137.18L357.10 137.54L357.60 137.90L358.10 138.25L358.60 138.60L359.10 138.95L359.60 139.29L360.10 139.63L360.60 139.97L361.10 140.30L361.60 140.63L362.10 140.96L362.60 141.28L363.10 141.60L363.60 141.92L364.10 142.23L364.60 142.54L365.10 142.85L365.60 143.15L366.10 143.45" fill="none" stroke="#181880" stroke-width="0.7"/>
<path d="M217.10 147.50L217.60 147.22L218.10 146.85L218.60 146.40L219.10 145.89L219.60 145.29L220.10 144.57L220.60 143.74L221.10 142.80L221.60 141.72L222.10 140.48L222.60 139.09L223.10 137.56L223.60 135.90L224.10 134.12L224.60 132.21L225.10 130.04L225.60 127.58L226.10 124.88L226.60 121.97L227.10 118.85L227.60 115.20L228.10 111.13L228.60 107.05L229.10 103.24L229.60 99.51L230.10 95.82L230.60 92.21L231.10 88.66L231.60 85.19L232.10 81.75L232.60 78.36L233.10 75.07L233.60 71.90L234.10 68.91L234.60 66.11L235.10 63.45L235.60 60.88L236.10 58.33L236.60 55.73L237.10 53.07L237.60 50.40L238.10 47.79L238.60 45.28L239.10 42.86L239.60 40.38L240.10 38.20L240.60 36.70L241.10 35.64L241.60 34.83L242.10 34.36L242.60 34.15L243.10 34.02L243.60 34.00L244.10 34.14L244.60 34.47L245.10 34.89L245.60 35.36L246.10 35.88L246.60 36.43L247.10 36.94L247.60 37.22L248.10 37.55L248.60 37.91L249.10 38.23L249.60 38.55L250.10 38.87L250.60 39.20L251.10 39.51L251.60 39.79L252.10 40.03L252.60 40.21L253.10 40.33L253.60 40.37L254.10 40.32L254.60 40.18L255.10 39.98L255.60 39.72L256.10 39.42L256.60 39.09L257.10 38.75L257.60 38.41L258.10 38.06L258.60 37.69L259.10 37.30L259.60 36.91L260.10 36.52L260.60 36.15L261.10 35.81L261.60 35.50L262.10 35.23L262.60 34.96L263.10 34.70L263.60 34.45L264.10 34.21L264.60 33.99L265.10 33.80L265.60 33.64L266.10 33.52L266.60 33.44L267.10 33.40L267.60 33.43L268.10 33.51L268.60 33.64L269.10 33.82L269.60 34.04L270.10 34.30L270.60 34.58L271.10 34.88L271.60 35.22L272.10 35.74L272.60 36.43L273.10 37.24L273.60 38.11L274.10 39.00L274.60 40.03L275.10 41.17L275.60 42.34L276.10 43.44L276.60 44.49L277.10 45.52L277.60 46.54L278.10 47.54L278.60 48.54L279.10 49.53L279.60 50.51L280.10 51.48L280.60 52.44L281.10 53.41L281.60 54.37L282.10 55.32L282.60 56.26L283.10 57.20L283.60 58.13L284.10 59.04L284.60 59.94L285.10 60.83L285.60 61.71L286.10 62.57L286.60 63.42L287.10 64.27L287.60 65.11L288.10 65.94L288.60 66.76L289.10 67.56L289.60 68.36L290.10 69.14L290.60 69.91L291.10 70.66L291.60 71.39L292.10 72.10L292.60 72.80L293.10 73.47L293.60 74.13L294.10 74.78L294.60 75.42L295.10 76.05L295.60 76.69L296.10 77.32L296.60 77.97L297.10 78.62L297.60 79.28L298.10 79.95L298.60 80.63L299.10 81.31L299.60 81.99L300.10 82.67L300.60 83.36L301.10 84.05L301.60 84.74L302.10 85.42L302.60 86.10L303.10 86.78L303.60 87.44L304.10 88.10L304.60 88.74L305.10 89.38L305.60 90.02L306.10 90.65L306.60 91.28L307.10 91.90L307.60 92.51L308.10 93.11L308.60 93.71L309.10 94.29L309.60 94.86L310.10 95.41L310.60 95.95L311.10 96.48L311.60 96.99L312.10 97.50L312.60 98.00L313.10 98.49L313.60 98.98L314.10 99.46L314.60 99.93L315.10 100.40L315.60 100.88L316.10 101.35L316.60 101.82L317.10 102.29L317.60 102.76L318.10 103.24L318.60 103.73L319.10 104.22L319.60 104.71L320.10 105.22L320.60 105.73L321.10 106.25L321.60 106.78L322.10 107.31L322.60 107.85L323.10 108.38L323.60 108.91L324.10 109.43L324.60 109.95L325.10 110.45L325.60 110.94L326.10 111.43L326.60 111.91L327.10 112.39L327.60 112.86L328.10 113.33L328.60 113.79L329.10 114.26L329.60 114.71L330.10 115.17L330.60 115.62L331.10 116.07L331.60 116.52L332.10 116.97L332.60 117.41L333.10 117.86L333.60 118.30L334.10 118.75L334.60 119.19L335.10 119.64L335.60 120.08L336.10 120.53L336.60 120.97L337.10 121.42L337.60 121.86L338.10 122.30L338.60 122.74L339.10 123.18L339.60 123.62L340.10 124.06L340.60 124.49L341.10 124.92L341.60 125.36L342.10 125.79L342.60 126.21L343.10 126.64L343.60 127.07L344.10 127.49L344.60 127.91L345.10 128.33L345.60 128.75L346.10 129.16L346.60 129.58L347.10 129.99L347.60 130.41L348.10 130.82L348.60 131.23L349.10 131.64L349.60 132.05L350.10 132.46L350.60 132.87L351.10 133.27L351.60 133.67L352.10 134.06L352.60 134.45L353.10 134.84L353.60 135.23L354.10 135.60L354.60 135.98L355.10 136.35L355.60 136.71L356.10 137.07L356.60 137.43L357.10 137.78L357.60 138.13L358.10 138.48L358.60 138.82L359.10 139.16L359.60 139.50L360.10 139.83L360.60 140.16L361.10 140.49L361.60 140.81L362.10 141.14L362.60 141.45L363.10 141.77L363.60 142.08L364.10 142.38L364.60 142.69L365.10 142.99L365.60 143.28L366.10 143.58" fill="none" stroke="#9020b0" stroke-width="0.7"/>
<path d="M217.10 147.50L217.60 147.22L218.10 146.85L218.60 146.40L219.10 145.89L219.60 145.29L220.10 144.57L220.60 143.74L221.10 142.80L221.60 141.72L222.10 140.48L222.60 139.09L223.10 137.56L223.60 135.90L224.10 134.12L224.60 132.21L225.10 130.04L225.60 127.58L226.10 124.88L226.60 121.97L227.10 118.85L227.60 115.20L228.10 111.13L228.60 107.05L229.10 103.24L229.60 99.51L230.10 95.82L230.60 92.21L231.10 88.67L231.60 85.20L232.10 81.77L232.60 78.39L233.10 75.11L233.60 71.96L234.10 68.98L234.60 66.20L235.10 63.56L235.60 61.01L236.10 58.48L236.60 55.91L237.10 53.28L237.60 50.64L238.10 48.06L238.60 45.59L239.10 43.20L239.60 40.76L240.10 38.62L240.60 37.16L241.10 36.14L241.60 35.38L242.10 34.95L242.60 34.79L243.10 34.70L243.60 34.73L244.10 34.92L244.60 35.29L245.10 35.77L245.60 36.29L246.10 36.87L246.60 37.48L247.10 38.03L247.60 38.32L248.10 38.67L248.60 39.04L249.10 39.38L249.60 39.72L250.10 40.06L250.60 40.40L251.10 40.72L251.60 41.02L252.10 41.27L252.60 41.46L253.10 41.59L253.60 41.63L254.10 41.58L254.60 41.45L255.10 41.24L255.60 40.98L256.10 40.66L256.60 40.32L257.10 39.96L257.60 39.61L258.10 39.25L258.60 38.86L259.10 38.45L259.60 38.04L260.10 37.64L260.60 37.26L261.10 36.91L261.60 36.59L262.10 36.30L262.60 36.03L263.10 35.76L263.60 35.51L264.10 35.27L264.60 35.05L265.10 34.85L265.60 34.69L266.10 34.57L266.60 34.49L267.10 34.45L267.60 34.48L268.10 34.56L268.60 34.69L269.10 34.87L269.60 35.09L270.10 35.34L270.60 35.62L271.10 35.92L271.60 36.25L272.10 36.77L272.60 37.45L273.10 38.25L273.60 39.12L274.10 40.00L274.60 41.01L275.10 42.15L275.60 43.31L276.10 44.40L276.60 45.43L277.10 46.46L277.60 47.47L278.10 48.46L278.60 49.45L279.10 50.43L279.60 51.40L280.10 52.36L280.60 53.32L281.10 54.27L281.60 55.22L282.10 56.17L282.60 57.10L283.10 58.03L283.60 58.95L284.10 59.86L284.60 60.75L285.10 61.63L285.60 62.50L286.10 63.35L286.60 64.20L287.10 65.04L287.60 65.87L288.10 66.69L288.60 67.50L289.10 68.30L289.60 69.09L290.10 69.86L290.60 70.62L291.10 71.36L291.60 72.09L292.10 72.80L292.60 73.49L293.10 74.15L293.60 74.81L294.10 75.45L294.60 76.08L295.10 76.71L295.60 77.34L296.10 77.97L296.60 78.61L297.10 79.26L297.60 79.91L298.10 80.58L298.60 81.25L299.10 81.92L299.60 82.60L300.10 83.27L300.60 83.95L301.10 84.64L301.60 85.32L302.10 86.00L302.60 86.68L303.10 87.35L303.60 88.01L304.10 88.66L304.60 89.30L305.10 89.94L305.60 90.57L306.10 91.20L306.60 91.83L307.10 92.44L307.60 93.05L308.10 93.65L308.60 94.24L309.10 94.82L309.60 95.39L310.10 95.94L310.60 96.48L311.10 97.01L311.60 97.52L312.10 98.03L312.60 98.52L313.10 99.01L313.60 99.50L314.10 99.98L314.60 100.45L315.10 100.92L315.60 101.39L316.10 101.86L316.60 102.33L317.10 102.80L317.60 103.28L318.10 103.75L318.60 104.24L319.10 104.72L319.60 105.22L320.10 105.72L320.60 106.24L321.10 106.76L321.60 107.28L322.10 107.81L322.60 108.34L323.10 108.87L323.60 109.40L324.10 109.92L324.60 110.43L325.10 110.94L325.60 111.43L326.10 111.91L326.60 112.39L327.10 112.87L327.60 113.34L328.10 113.80L328.60 114.27L329.10 114.72L329.60 115.18L330.10 115.63L330.60 116.08L331.10 116.53L331.60 116.98L332.10 117.42L332.60 117.86L333.10 118.31L333.60 118.75L334.10 119.19L334.60 119.63L335.10 120.08L335.60 120.52L336.10 120.96L336.60 121.40L337.10 121.84L337.60 122.28L338.10 122.72L338.60 123.16L339.10 123.59L339.60 124.03L340.10 124.46L340.60 124.89L341.10 125.32L341.60 125.75L342.10 126.18L342.60 126.60L343.10 127.02L343.60 127.45L344.10 127.86L344.60 128.28L345.10 128.70L345.60 129.11L346.10 129.52L346.60 129.93L347.10 130.34L347.60 130.75L348.10 131.16L348.60 131.57L349.10 131.97L349.60 132.38L350.10 132.78L350.60 133.18L351.10 133.57L351.60 133.97L352.10 134.36L352.60 134.74L353.10 135.13L353.60 135.50L354.10 135.88L354.60 136.25L355.10 136.61L355.60 136.97L356.10 137.32L356.60 137.67L357.10 138.02L357.60 138.36L358.10 138.70L358.60 139.04L359.10 139.38L359.60 139.71L360.10 140.03L360.60 140.36L361.10 140.68L361.60 141.00L362.10 141.31L362.60 141.62L363.10 141.93L363.60 142.23L364.10 142.53L364.60 142.83L365.10 143.13L365.60 143.42L366.10 143.70" fill="none" stroke="#d03050" stroke-width="0.7"/>
<path d="M217.10 147.50L217.60 147.22L218.10 146.85L218.60 146.40L219.10 145.89L219.60 145.29L220.10 144.57L220.60 143.74L221.10 142.80L221.60 141.72L222.10 140.48L222.60 139.09L223.10 137.56L223.60 135.90L224.10 134.12L224.60 132.21L225.10 130.04L225.60 127.58L226.10 124.88L226.60 121.97L227.10 118.85L227.60 115.20L228.10 111.13L228.60 107.05L229.10 103.24L229.60 99.51L230.10 95.82L230.60 92.21L231.10 88.67L231.60 85.21L232.10 81.79L232.60 78.42L233.10 75.15L233.60 72.01L234.10 69.05L234.60 66.28L235.10 63.67L235.60 61.14L236.10 58.63L236.60 56.08L237.10 53.48L237.60 50.88L238.10 48.33L238.60 45.89L239.10 43.54L239.60 41.14L240.10 39.04L240.60 37.63L241.10 36.65L241.60 35.93L242.10 35.54L242.60 35.42L243.10 35.38L243.60 35.46L244.10 35.70L244.60 36.12L245.10 36.64L245.60 37.22L246.10 37.85L246.60 38.52L247.10 39.12L247.60 39.43L248.10 39.79L248.60 40.17L249.10 40.53L249.60 40.88L250.10 41.24L250.60 41.60L251.10 41.94L251.60 42.25L252.10 42.51L252.60 42.72L253.10 42.85L253.60 42.90L254.10 42.85L254.60 42.71L255.10 42.50L255.60 42.23L256.10 41.91L256.60 41.55L257.10 41.18L257.60 40.81L258.10 40.43L258.60 40.02L259.10 39.60L259.60 39.18L260.10 38.77L260.60 38.37L261.10 38.01L261.60 37.67L262.10 37.38L262.60 37.10L263.10 36.83L263.60 36.57L264.10 36.32L264.60 36.10L265.10 35.91L265.60 35.75L266.10 35.62L266.60 35.54L267.10 35.51L267.60 35.53L268.10 35.61L268.60 35.74L269.10 35.91L269.60 36.13L270.10 36.38L270.60 36.65L271.10 36.95L271.60 37.29L272.10 37.80L272.60 38.47L273.10 39.27L273.60 40.12L274.10 41.00L274.60 42.00L275.10 43.13L275.60 44.28L276.10 45.35L276.60 46.38L277.10 47.39L277.60 48.39L278.10 49.38L278.60 50.36L279.10 51.33L279.60 52.29L280.10 53.24L280.60 54.19L281.10 55.14L281.60 56.08L282.10 57.01L282.60 57.94L283.10 58.86L283.60 59.77L284.10 60.67L284.60 61.56L285.10 62.43L285.60 63.29L286.10 64.13L286.60 64.97L287.10 65.80L287.60 66.63L288.10 67.44L288.60 68.25L289.10 69.04L289.60 69.82L290.10 70.58L290.60 71.34L291.10 72.07L291.60 72.79L292.10 73.49L292.60 74.17L293.10 74.84L293.60 75.48L294.10 76.12L294.60 76.75L295.10 77.37L295.60 77.99L296.10 78.62L296.60 79.25L297.10 79.89L297.60 80.54L298.10 81.20L298.60 81.86L299.10 82.53L299.60 83.20L300.10 83.87L300.60 84.55L301.10 85.23L301.60 85.90L302.10 86.58L302.60 87.25L303.10 87.92L303.60 88.57L304.10 89.22L304.60 89.86L305.10 90.49L305.60 91.13L306.10 91.75L306.60 92.37L307.10 92.99L307.60 93.60L308.10 94.19L308.60 94.78L309.10 95.36L309.60 95.92L310.10 96.47L310.60 97.01L311.10 97.53L311.60 98.05L312.10 98.55L312.60 99.05L313.10 99.54L313.60 100.02L314.10 100.50L314.60 100.97L315.10 101.44L315.60 101.91L316.10 102.38L316.60 102.85L317.10 103.32L317.60 103.79L318.10 104.27L318.60 104.75L319.10 105.23L319.60 105.73L320.10 106.23L320.60 106.74L321.10 107.26L321.60 107.78L322.10 108.31L322.60 108.84L323.10 109.37L323.60 109.89L324.10 110.41L324.60 110.92L325.10 111.42L325.60 111.91L326.10 112.39L326.60 112.87L327.10 113.34L327.60 113.81L328.10 114.28L328.60 114.74L329.10 115.19L329.60 115.65L330.10 116.10L330.60 116.54L331.10 116.99L331.60 117.43L332.10 117.88L332.60 118.32L333.10 118.76L333.60 119.20L334.10 119.64L334.60 120.08L335.10 120.52L335.60 120.96L336.10 121.40L336.60 121.83L337.10 122.27L337.60 122.71L338.10 123.14L338.60 123.58L339.10 124.01L339.60 124.44L340.10 124.87L340.60 125.30L341.10 125.72L341.60 126.15L342.10 126.57L342.60 126.99L343.10 127.41L343.60 127.83L344.10 128.24L344.60 128.65L345.10 129.06L345.60 129.47L346.10 129.88L346.60 130.28L347.10 130.69L347.60 131.09L348.10 131.50L348.60 131.90L349.10 132.30L349.60 132.70L350.10 133.10L350.60 133.49L351.10 133.88L351.60 134.27L352.10 134.65L352.60 135.03L353.10 135.41L353.60 135.78L354.10 136.15L354.60 136.51L355.10 136.87L355.60 137.22L356.10 137.57L356.60 137.92L357.10 138.26L357.60 138.60L358.10 138.93L358.60 139.26L359.10 139.59L359.60 139.91L360.10 140.24L360.60 140.55L361.10 140.87L361.60 141.18L362.10 141.49L362.60 141.79L363.10 142.09L363.60 142.39L364.10 142.69L364.60 142.98L365.10 143.26L365.60 143.55L366.10 143.82" fill="none" stroke="#408070" stroke-width="0.7"/>
<path d="M217.10 147.50L217.60 147.22L218.10 146.85L218.60 146.40L219.10 145.89L219.60 145.29L220.10 144.57L220.60 143.74L221.10 142.80L221.60 141.72L222.10 140.48L222.60 139.09L223.10 137.56L223.60 135.90L224.10 134.12L224.60 132.21L225.10 130.04L225.60 127.58L226.10 124.88L226.60 121.97L227.10 118.85L227.60 115.20L228.10 111.13L228.60 107.05L229.10 103.24L229.60 99.51L230.10 95.82L230.60 92.21L231.10 88.68L231.60 85.22L232.10 81.80L232.60 78.45L233.10 75.18L233.60 72.06L234.10 69.11L234.60 66.36L235.10 63.76L235.60 61.25L236.10 58.76L236.60 56.24L237.10 53.66L237.60 51.08L238.10 48.56L238.60 46.16L239.10 43.85L239.60 41.48L240.10 39.42L240.60 38.04L241.10 37.10L241.60 36.42L242.10 36.07L242.60 35.99L243.10 35.99L243.60 36.11L244.10 36.39L244.60 36.86L245.10 37.42L245.60 38.05L246.10 38.73L246.60 39.45L247.10 40.09L247.60 40.41L248.10 40.79L248.60 41.18L249.10 41.56L249.60 41.92L250.10 42.29L250.60 42.67L251.10 43.02L251.60 43.34L252.10 43.62L252.60 43.83L253.10 43.97L253.60 44.02L254.10 43.98L254.60 43.84L255.10 43.62L255.60 43.34L256.10 43.01L256.60 42.65L257.10 42.26L257.60 41.88L258.10 41.48L258.60 41.06L259.10 40.63L259.60 40.19L260.10 39.76L260.60 39.36L261.10 38.98L261.60 38.64L262.10 38.34L262.60 38.05L263.10 37.78L263.60 37.51L264.10 37.26L264.60 37.04L265.10 36.85L265.60 36.68L266.10 36.56L266.60 36.47L267.10 36.44L267.60 36.46L268.10 36.54L268.60 36.67L269.10 36.84L269.60 37.06L270.10 37.30L270.60 37.58L271.10 37.87L271.60 38.20L272.10 38.71L272.60 39.38L273.10 40.17L273.60 41.02L274.10 41.88L274.60 42.88L275.10 43.99L275.60 45.13L276.10 46.20L276.60 47.22L277.10 48.23L277.60 49.22L278.10 50.20L278.60 51.17L279.10 52.13L279.60 53.08L280.10 54.03L280.60 54.97L281.10 55.91L281.60 56.84L282.10 57.77L282.60 58.69L283.10 59.60L283.60 60.50L284.10 61.39L284.60 62.27L285.10 63.14L285.60 63.99L286.10 64.83L286.60 65.66L287.10 66.49L287.60 67.30L288.10 68.11L288.60 68.91L289.10 69.69L289.60 70.47L290.10 71.23L290.60 71.97L291.10 72.70L291.60 73.42L292.10 74.11L292.60 74.79L293.10 75.44L293.60 76.08L294.10 76.72L294.60 77.34L295.10 77.96L295.60 78.57L296.10 79.19L296.60 79.82L297.10 80.46L297.60 81.10L298.10 81.76L298.60 82.41L299.10 83.07L299.60 83.74L300.10 84.40L300.60 85.08L301.10 85.75L301.60 86.42L302.10 87.10L302.60 87.76L303.10 88.42L303.60 89.08L304.10 89.72L304.60 90.36L305.10 90.99L305.60 91.62L306.10 92.24L306.60 92.86L307.10 93.47L307.60 94.08L308.10 94.67L308.60 95.26L309.10 95.83L309.60 96.40L310.10 96.94L310.60 97.48L311.10 98.00L311.60 98.52L312.10 99.02L312.60 99.51L313.10 100.00L313.60 100.48L314.10 100.96L314.60 101.43L315.10 101.90L315.60 102.37L316.10 102.84L316.60 103.31L317.10 103.77L317.60 104.25L318.10 104.72L318.60 105.20L319.10 105.69L319.60 106.18L320.10 106.68L320.60 107.19L321.10 107.71L321.60 108.23L322.10 108.75L322.60 109.28L323.10 109.81L323.60 110.33L324.10 110.84L324.60 111.35L325.10 111.85L325.60 112.34L326.10 112.82L326.60 113.30L327.10 113.77L327.60 114.23L328.10 114.70L328.60 115.15L329.10 115.61L329.60 116.06L330.10 116.51L330.60 116.96L331.10 117.40L331.60 117.84L332.10 118.28L332.60 118.72L333.10 119.16L333.60 119.60L334.10 120.03L334.60 120.47L335.10 120.91L335.60 121.34L336.10 121.78L336.60 122.22L337.10 122.65L337.60 123.08L338.10 123.52L338.60 123.95L339.10 124.38L339.60 124.80L340.10 125.23L340.60 125.66L341.10 126.08L341.60 126.50L342.10 126.92L342.60 127.33L343.10 127.75L343.60 128.16L344.10 128.57L344.60 128.98L345.10 129.39L345.60 129.79L346.10 130.19L346.60 130.60L347.10 131.00L347.60 131.40L348.10 131.80L348.60 132.20L349.10 132.59L349.60 132.99L350.10 133.38L350.60 133.77L351.10 134.15L351.60 134.54L352.10 134.92L352.60 135.29L353.10 135.66L353.60 136.03L354.10 136.39L354.60 136.75L355.10 137.10L355.60 137.45L356.10 137.79L356.60 138.13L357.10 138.47L357.60 138.80L358.10 139.13L358.60 139.46L359.10 139.78L359.60 140.10L360.10 140.42L360.60 140.73L361.10 141.04L361.60 141.34L362.10 141.65L362.60 141.94L363.10 142.24L363.60 142.53L364.10 142.82L364.60 143.10L365.10 143.39L365.60 143.66L366.10 143.93" fill="none" stroke="#7030e0" stroke-width="0.7"/>
<path d="M217.10 147.50L217.60 147.22L218.10 146.85L218.60 146.40L219.10 145.89L219.60 145.29L220.10 144.57L220.60 143.74L221.10 142.80L221.60 141.72L222.10 140.48L222.60 139.09L223.10 137.56L223.60 135.90L224.10 134.12L224.60 132.21L225.10 130.04L225.60 127.58L226.10 124.88L226.60 121.97L227.10 118.85L227.60 115.20L228.10 111.13L228.60 107.05L229.10 103.24L229.60 99.51L230.10 95.83L230.60 92.22L231.10 88.69L231.60 85.23L232.10 81.82L232.60 78.47L233.10 75.22L233.60 72.11L234.10 69.17L234.60 66.44L235.10 63.86L235.60 61.36L236.10 58.90L236.60 56.40L237.10 53.84L237.60 51.29L238.10 48.80L238.60 46.43L239.10 44.15L239.60 41.82L240.10 39.79L240.60 38.45L241.10 37.55L241.60 36.91L242.10 36.59L242.60 36.56L243.10 36.60L243.60 36.76L244.10 37.08L244.60 37.59L245.10 38.20L245.60 38.88L246.10 39.61L246.60 40.37L247.10 41.06L247.60 41.39L248.10 41.78L248.60 42.19L249.10 42.58L249.60 42.96L250.10 43.35L250.60 43.73L251.10 44.10L251.60 44.44L252.10 44.72L252.60 44.94L253.10 45.09L253.60 45.15L254.10 45.10L254.60 44.96L255.10 44.74L255.60 44.46L256.10 44.12L256.60 43.74L257.10 43.35L257.60 42.95L258.10 42.54L258.60 42.10L259.10 41.65L259.60 41.20L260.10 40.76L260.60 40.34L261.10 39.96L261.60 39.61L262.10 39.30L262.60 39.01L263.10 38.72L263.60 38.45L264.10 38.21L264.60 37.98L265.10 37.78L265.60 37.62L266.10 37.49L266.60 37.41L267.10 37.37L267.60 37.39L268.10 37.47L268.60 37.60L269.10 37.77L269.60 37.98L270.10 38.23L270.60 38.50L271.10 38.79L271.60 39.12L272.10 39.62L272.60 40.29L273.10 41.07L273.60 41.91L274.10 42.77L274.60 43.76L275.10 44.86L275.60 45.99L276.10 47.05L276.60 48.06L277.10 49.06L277.60 50.04L278.10 51.02L278.60 51.98L279.10 52.93L279.60 53.88L280.10 54.81L280.60 55.75L281.10 56.68L281.60 57.60L282.10 58.52L282.60 59.43L283.10 60.34L283.60 61.23L284.10 62.12L284.60 62.99L285.10 63.85L285.60 64.69L286.10 65.52L286.60 66.35L287.10 67.17L287.60 67.98L288.10 68.78L288.60 69.57L289.10 70.35L289.60 71.11L290.10 71.87L290.60 72.61L291.10 73.33L291.60 74.04L292.10 74.73L292.60 75.40L293.10 76.05L293.60 76.69L294.10 77.31L294.60 77.93L295.10 78.54L295.60 79.16L296.10 79.77L296.60 80.39L297.10 81.02L297.60 81.66L298.10 82.31L298.60 82.96L299.10 83.62L299.60 84.28L300.10 84.94L300.60 85.60L301.10 86.27L301.60 86.94L302.10 87.61L302.60 88.27L303.10 88.93L303.60 89.58L304.10 90.22L304.60 90.86L305.10 91.48L305.60 92.11L306.10 92.73L306.60 93.35L307.10 93.96L307.60 94.56L308.10 95.15L308.60 95.74L309.10 96.31L309.60 96.87L310.10 97.42L310.60 97.95L311.10 98.47L311.60 98.98L312.10 99.49L312.60 99.98L313.10 100.47L313.60 100.95L314.10 101.42L314.60 101.89L315.10 102.36L315.60 102.83L316.10 103.30L316.60 103.76L317.10 104.23L317.60 104.70L318.10 105.18L318.60 105.66L319.10 106.14L319.60 106.63L320.10 107.13L320.60 107.64L321.10 108.15L321.60 108.67L322.10 109.20L322.60 109.72L323.10 110.24L323.60 110.76L324.10 111.28L324.60 111.79L325.10 112.28L325.60 112.77L326.10 113.25L326.60 113.72L327.10 114.19L327.60 114.66L328.10 115.12L328.60 115.57L329.10 116.03L329.60 116.48L330.10 116.92L330.60 117.37L331.10 117.81L331.60 118.25L332.10 118.69L332.60 119.12L333.10 119.56L333.60 119.99L334.10 120.43L334.60 120.86L335.10 121.30L335.60 121.73L336.10 122.17L336.60 122.60L337.10 123.03L337.60 123.46L338.10 123.89L338.60 124.32L339.10 124.74L339.60 125.17L340.10 125.59L340.60 126.01L341.10 126.43L341.60 126.85L342.10 127.27L342.60 127.68L343.10 128.09L343.60 128.50L344.10 128.91L344.60 129.31L345.10 129.71L345.60 130.11L346.10 130.51L346.60 130.91L347.10 131.31L347.60 131.70L348.10 132.10L348.60 132.49L349.10 132.88L349.60 133.27L350.10 133.66L350.60 134.04L351.10 134.43L351.60 134.80L352.10 135.18L352.60 135.55L353.10 135.92L353.60 136.28L354.10 136.64L354.60 136.99L355.10 137.34L355.60 137.68L356.10 138.02L356.60 138.35L357.10 138.68L357.60 139.01L358.10 139.33L358.60 139.65L359.10 139.97L359.60 140.28L360.10 140.59L360.60 140.90L361.10 141.21L361.60 141.51L362.10 141.80L362.60 142.10L363.10 142.39L363.60 142.67L364.10 142.95L364.60 143.23L365.10 143.51L365.60 143.78L366.10 144.05" fill="none" stroke="#a070f0" stroke-width="0.7"/>
<line x1="217.10" y1="148.3" x2="217.10" y2="151.10000000000002" stroke="#252525" stroke-width="0.9"/>
<line x1="242.07" y1="148.3" x2="242.07" y2="151.10000000000002" stroke="#252525" stroke-width="0.9"/>
<line x1="267.03" y1="148.3" x2="267.03" y2="151.10000000000002" stroke="#252525" stroke-width="0.9"/>
<line x1="292.00" y1="148.3" x2="292.00" y2="151.10000000000002" stroke="#252525" stroke-width="0.9"/>
<line x1="316.97" y1="148.3" x2="316.97" y2="151.10000000000002" stroke="#252525" stroke-width="0.9"/>
<line x1="341.93" y1="148.3" x2="341.93" y2="151.10000000000002" stroke="#252525" stroke-width="0.9"/>
<line x1="366.90" y1="148.3" x2="366.90" y2="151.10000000000002" stroke="#252525" stroke-width="0.9"/>
<line x1="229.58" y1="148.3" x2="229.58" y2="149.9" stroke="#252525" stroke-width="0.9"/>
<line x1="254.55" y1="148.3" x2="254.55" y2="149.9" stroke="#252525" stroke-width="0.9"/>
<line x1="279.52" y1="148.3" x2="279.52" y2="149.9" stroke="#252525" stroke-width="0.9"/>
<line x1="304.48" y1="148.3" x2="304.48" y2="149.9" stroke="#252525" stroke-width="0.9"/>
<line x1="329.45" y1="148.3" x2="329.45" y2="149.9" stroke="#252525" stroke-width="0.9"/>
<line x1="354.42" y1="148.3" x2="354.42" y2="149.9" stroke="#252525" stroke-width="0.9"/>
<line x1="217.1" y1="22.70" x2="214.29999999999998" y2="22.70" stroke="#252525" stroke-width="0.9"/>
<line x1="217.1" y1="48.65" x2="214.29999999999998" y2="48.65" stroke="#252525" stroke-width="0.9"/>
<line x1="217.1" y1="74.60" x2="214.29999999999998" y2="74.60" stroke="#252525" stroke-width="0.9"/>
<line x1="217.1" y1="100.55" x2="214.29999999999998" y2="100.55" stroke="#252525" stroke-width="0.9"/>
<line x1="217.1" y1="126.50" x2="214.29999999999998" y2="126.50" stroke="#252525" stroke-width="0.9"/>
<line x1="217.1" y1="35.65" x2="215.5" y2="35.65" stroke="#252525" stroke-width="0.9"/>
<line x1="217.1" y1="61.60" x2="215.5" y2="61.60" stroke="#252525" stroke-width="0.9"/>
<line x1="217.1" y1="87.55" x2="215.5" y2="87.55" stroke="#252525" stroke-width="0.9"/>
<line x1="217.1" y1="113.50" x2="215.5" y2="113.50" stroke="#252525" stroke-width="0.9"/>
<line x1="217.1" y1="139.45" x2="215.5" y2="139.45" stroke="#252525" stroke-width="0.9"/>
<text transform="translate(217.10,159.00) scale(1,1.07)" font-size="8" stroke="#1a1a1a" stroke-width="0.26" text-anchor="middle" >450</text>
<text transform="translate(242.07,159.00) scale(1,1.07)" font-size="8" stroke="#1a1a1a" stroke-width="0.26" text-anchor="middle" >475</text>
<text transform="translate(267.03,159.00) scale(1,1.07)" font-size="8" stroke="#1a1a1a" stroke-width="0.26" text-anchor="middle" >500</text>
<text transform="translate(292.00,159.00) scale(1,1.07)" font-size="8" stroke="#1a1a1a" stroke-width="0.26" text-anchor="middle" >525</text>
<text transform="translate(316.97,159.00) scale(1,1.07)" font-size="8" stroke="#1a1a1a" stroke-width="0.26" text-anchor="middle" >550</text>
<text transform="translate(341.93,159.00) scale(1,1.07)" font-size="8" stroke="#1a1a1a" stroke-width="0.26" text-anchor="middle" >575</text>
<text transform="translate(366.90,159.00) scale(1,1.07)" font-size="8" stroke="#1a1a1a" stroke-width="0.26" text-anchor="middle" >600</text>
<text x="256.00" y="169.90" font-size="9.4" stroke="#1a1a1a" stroke-width="0.2" text-anchor="start" >Wavelength / nm</text>
<text transform="translate(206.40,151.40) rotate(-90)" font-size="9.5" stroke="#1a1a1a" stroke-width="0.2" text-anchor="start" >Phosphorescence Intensity (A.U.)</text>
<text x="222.80" y="24.50" font-size="9.6" stroke="#1a1a1a" stroke-width="0.2" text-anchor="start" >(b)</text>
<line x1="16.4" y1="187.6" x2="167.3" y2="187.6" stroke="#4a4a4a" stroke-width="1"/>
<line x1="166.8" y1="187.6" x2="166.8" y2="325.7" stroke="#4a4a4a" stroke-width="1"/>
<line x1="16.9" y1="187.6" x2="16.9" y2="325.7" stroke="#686868" stroke-width="1"/>
<line x1="16.4" y1="325.7" x2="167.3" y2="325.7" stroke="#767aa0" stroke-width="1"/>
<path d="M16.90 325.16L17.40 325.15L17.90 325.15L18.40 325.15L18.90 325.15L19.40 325.14L19.90 325.14L20.40 325.14L20.90 325.13L21.40 325.13L21.90 325.12L22.40 325.12L22.90 325.12L23.40 325.11L23.90 325.10L24.40 325.10L24.90 325.09L25.40 325.08L25.90 325.07L26.40 325.06L26.90 325.05L27.40 325.04L27.90 325.03L28.40 325.02L28.90 325.01L29.40 325.00L29.90 324.98L30.40 324.97L30.90 324.95L31.40 324.94L31.90 324.92L32.40 324.90L32.90 324.88L33.40 324.86L33.90 324.84L34.40 324.82L34.90 324.80L35.40 324.77L35.90 324.75L36.40 324.72L36.90 324.70L37.40 324.67L37.90 324.64L38.40 324.60L38.90 324.56L39.40 324.52L39.90 324.48L40.40 324.43L40.90 324.38L41.40 324.33L41.90 324.28L42.40 324.22L42.90 324.17L43.40 324.11L43.90 324.05L44.40 323.98L44.90 323.92L45.40 323.85L45.90 323.78L46.40 323.70L46.90 323.62L47.40 323.54L47.90 323.45L48.40 323.36L48.90 323.26L49.40 323.15L49.90 323.05L50.40 322.93L50.90 322.80L51.40 322.67L51.90 322.52L52.40 322.35L52.90 322.18L53.40 322.00L53.90 321.82L54.40 321.62L54.90 321.41L55.40 321.18L55.90 320.94L56.40 320.67L56.90 320.40L57.40 320.11L57.90 319.81L58.40 319.46L58.90 319.09L59.40 318.70L59.90 318.33L60.40 317.98L60.90 317.69L61.40 317.42L61.90 317.16L62.40 316.93L62.90 316.69L63.40 316.47L63.90 316.24L64.40 316.00L64.90 315.75L65.40 315.50L65.90 315.24L66.40 314.99L66.90 314.74L67.40 314.49L67.90 314.24L68.40 314.00L68.90 313.76L69.40 313.53L69.90 313.31L70.40 313.07L70.90 312.84L71.40 312.60L71.90 312.35L72.40 312.12L72.90 311.88L73.40 311.66L73.90 311.44L74.40 311.24L74.90 311.05L75.40 310.88L75.90 310.74L76.40 310.61L76.90 310.49L77.40 310.38L77.90 310.27L78.40 310.16L78.90 310.07L79.40 309.97L79.90 309.89L80.40 309.81L80.90 309.73L81.40 309.67L81.90 309.60L82.40 309.55L82.90 309.51L83.40 309.46L83.90 309.42L84.40 309.38L84.90 309.34L85.40 309.30L85.90 309.27L86.40 309.24L86.90 309.22L87.40 309.21L87.90 309.20L88.40 309.20L88.90 309.21L89.40 309.23L89.90 309.25L90.40 309.27L90.90 309.30L91.40 309.34L91.90 309.38L92.40 309.43L92.90 309.48L93.40 309.54L93.90 309.60L94.40 309.67L94.90 309.74L95.40 309.81L95.90 309.89L96.40 309.97L96.90 310.05L97.40 310.14L97.90 310.22L98.40 310.32L98.90 310.41L99.40 310.51L99.90 310.60L100.40 310.70L100.90 310.80L101.40 310.90L101.90 311.01L102.40 311.11L102.90 311.22L103.40 311.32L103.90 311.43L104.40 311.54L104.90 311.66L105.40 311.81L105.90 311.97L106.40 312.14L106.90 312.32L107.40 312.51L107.90 312.69L108.40 312.87L108.90 313.05L109.40 313.22L109.90 313.37L110.40 313.52L110.90 313.67L111.40 313.82L111.90 313.96L112.40 314.11L112.90 314.25L113.40 314.39L113.90 314.53L114.40 314.67L114.90 314.80L115.40 314.94L115.90 315.08L116.40 315.21L116.90 315.35L117.40 315.48L117.90 315.62L118.40 315.76L118.90 315.89L119.40 316.03L119.90 316.16L120.40 316.29L120.90 316.41L121.40 316.53L121.90 316.65L122.40 316.76L122.90 316.87L123.40 316.98L123.90 317.09L124.40 317.19L124.90 317.29L125.40 317.39L125.90 317.49L126.40 317.58L126.90 317.68L127.40 317.77L127.90 317.86L128.40 317.96L128.90 318.05L129.40 318.14L129.90 318.23L130.40 318.32L130.90 318.41L131.40 318.50L131.90 318.59L132.40 318.68L132.90 318.76L133.40 318.85L133.90 318.94L134.40 319.03L134.90 319.12L135.40 319.21L135.90 319.30L136.40 319.39L136.90 319.48L137.40 319.57L137.90 319.65L138.40 319.73L138.90 319.82L139.40 319.90L139.90 319.97L140.40 320.05L140.90 320.13L141.40 320.20L141.90 320.28L142.40 320.35L142.90 320.42L143.40 320.49L143.90 320.57L144.40 320.64L144.90 320.70L145.40 320.77L145.90 320.84L146.40 320.91L146.90 320.97L147.40 321.03L147.90 321.10L148.40 321.16L148.90 321.22L149.40 321.28L149.90 321.34L150.40 321.39L150.90 321.45L151.40 321.50L151.90 321.56L152.40 321.61L152.90 321.66L153.40 321.72L153.90 321.77L154.40 321.82L154.90 321.87L155.40 321.92L155.90 321.97L156.40 322.01L156.90 322.06L157.40 322.11L157.90 322.16L158.40 322.20L158.90 322.25L159.40 322.29L159.90 322.34L160.40 322.38L160.90 322.43L161.40 322.47L161.90 322.52L162.40 322.56L162.90 322.60L163.40 322.65L163.90 322.69L164.40 322.73L164.90 322.77L165.40 322.82L165.90 322.86L166.40 322.90" fill="none" stroke="#ff5050" stroke-width="0.85"/>
<path d="M16.90 325.11L17.40 325.11L17.90 325.11L18.40 325.10L18.90 325.10L19.40 325.09L19.90 325.09L20.40 325.08L20.90 325.08L21.40 325.07L21.90 325.07L22.40 325.06L22.90 325.05L23.40 325.05L23.90 325.04L24.40 325.03L24.90 325.01L25.40 325.00L25.90 324.99L26.40 324.97L26.90 324.96L27.40 324.94L27.90 324.92L28.40 324.91L28.90 324.89L29.40 324.87L29.90 324.85L30.40 324.82L30.90 324.80L31.40 324.77L31.90 324.74L32.40 324.71L32.90 324.67L33.40 324.64L33.90 324.60L34.40 324.56L34.90 324.52L35.40 324.48L35.90 324.44L36.40 324.39L36.90 324.33L37.40 324.27L37.90 324.21L38.40 324.13L38.90 324.06L39.40 323.98L39.90 323.89L40.40 323.81L40.90 323.71L41.40 323.62L41.90 323.52L42.40 323.42L42.90 323.32L43.40 323.20L43.90 323.08L44.40 322.95L44.90 322.82L45.40 322.67L45.90 322.52L46.40 322.36L46.90 322.19L47.40 322.00L47.90 321.80L48.40 321.57L48.90 321.32L49.40 321.05L49.90 320.77L50.40 320.47L50.90 320.16L51.40 319.82L51.90 319.44L52.40 319.04L52.90 318.61L53.40 318.16L53.90 317.67L54.40 317.11L54.90 316.51L55.40 315.91L55.90 315.36L56.40 314.89L56.90 314.47L57.40 314.08L57.90 313.71L58.40 313.35L58.90 312.99L59.40 312.62L59.90 312.23L60.40 311.83L60.90 311.44L61.40 311.04L61.90 310.64L62.40 310.25L62.90 309.88L63.40 309.51L63.90 309.15L64.40 308.79L64.90 308.42L65.40 308.04L65.90 307.67L66.40 307.29L66.90 306.93L67.40 306.57L67.90 306.24L68.40 305.94L68.90 305.66L69.40 305.43L69.90 305.23L70.40 305.04L70.90 304.86L71.40 304.69L71.90 304.54L72.40 304.39L72.90 304.25L73.40 304.12L73.90 304.01L74.40 303.91L74.90 303.82L75.40 303.74L75.90 303.67L76.40 303.60L76.90 303.54L77.40 303.47L77.90 303.42L78.40 303.37L78.90 303.34L79.40 303.31L79.90 303.30L80.40 303.30L80.90 303.32L81.40 303.34L81.90 303.38L82.40 303.43L82.90 303.49L83.40 303.55L83.90 303.63L84.40 303.71L84.90 303.80L85.40 303.90L85.90 304.01L86.40 304.12L86.90 304.24L87.40 304.37L87.90 304.50L88.40 304.64L88.90 304.78L89.40 304.92L89.90 305.07L90.40 305.23L90.90 305.38L91.40 305.54L91.90 305.70L92.40 305.87L92.90 306.03L93.40 306.19L93.90 306.36L94.40 306.54L94.90 306.75L95.40 306.99L95.90 307.25L96.40 307.53L96.90 307.82L97.40 308.11L97.90 308.39L98.40 308.66L98.90 308.92L99.40 309.16L99.90 309.39L100.40 309.62L100.90 309.85L101.40 310.07L101.90 310.29L102.40 310.51L102.90 310.73L103.40 310.94L103.90 311.15L104.40 311.37L104.90 311.58L105.40 311.79L105.90 312.01L106.40 312.22L106.90 312.44L107.40 312.65L107.90 312.85L108.40 313.05L108.90 313.25L109.40 313.43L109.90 313.61L110.40 313.78L110.90 313.95L111.40 314.12L111.90 314.28L112.40 314.43L112.90 314.59L113.40 314.74L113.90 314.89L114.40 315.03L114.90 315.18L115.40 315.33L115.90 315.47L116.40 315.62L116.90 315.76L117.40 315.89L117.90 316.03L118.40 316.17L118.90 316.31L119.40 316.45L119.90 316.59L120.40 316.73L120.90 316.87L121.40 317.01L121.90 317.15L122.40 317.29L122.90 317.43L123.40 317.56L123.90 317.69L124.40 317.82L124.90 317.95L125.40 318.07L125.90 318.19L126.40 318.31L126.90 318.42L127.40 318.54L127.90 318.65L128.40 318.76L128.90 318.87L129.40 318.98L129.90 319.09L130.40 319.20L130.90 319.30L131.40 319.40L131.90 319.50L132.40 319.60L132.90 319.69L133.40 319.79L133.90 319.88L134.40 319.97L134.90 320.05L135.40 320.14L135.90 320.22L136.40 320.31L136.90 320.39L137.40 320.47L137.90 320.55L138.40 320.63L138.90 320.70L139.40 320.78L139.90 320.86L140.40 320.93L140.90 321.00L141.40 321.08L141.90 321.15L142.40 321.22L142.90 321.29L143.40 321.36L143.90 321.43L144.40 321.50L144.90 321.57L145.40 321.64L145.90 321.70L146.40 321.77L146.90 321.84L147.40 321.90L147.90 321.96L148.40 322.03L148.90 322.09L149.40 322.15L149.90 322.21L150.40 322.28L150.90 322.34L151.40 322.39L151.90 322.45L152.40 322.51L152.90 322.57L153.40 322.62L153.90 322.68L154.40 322.73L154.90 322.79L155.40 322.84L155.90 322.89L156.40 322.94L156.90 323.00L157.40 323.05L157.90 323.10L158.40 323.15L158.90 323.20L159.40 323.24L159.90 323.29L160.40 323.34L160.90 323.39L161.40 323.43L161.90 323.48L162.40 323.52L162.90 323.57L163.40 323.61L163.90 323.66L164.40 323.70L164.90 323.75L165.40 323.79L165.90 323.84L166.40 323.88" fill="none" stroke="#50f030" stroke-width="0.85"/>
<path d="M16.90 325.07L17.40 325.07L17.90 325.06L18.40 325.06L18.90 325.05L19.40 325.05L19.90 325.04L20.40 325.04L20.90 325.03L21.40 325.03L21.90 325.02L22.40 325.01L22.90 325.00L23.40 325.00L23.90 324.99L24.40 324.98L24.90 324.97L25.40 324.95L25.90 324.94L26.40 324.92L26.90 324.90L27.40 324.89L27.90 324.86L28.40 324.84L28.90 324.82L29.40 324.79L29.90 324.77L30.40 324.74L30.90 324.71L31.40 324.68L31.90 324.64L32.40 324.60L32.90 324.56L33.40 324.52L33.90 324.47L34.40 324.42L34.90 324.37L35.40 324.31L35.90 324.26L36.40 324.20L36.90 324.13L37.40 324.06L37.90 323.97L38.40 323.88L38.90 323.79L39.40 323.68L39.90 323.57L40.40 323.45L40.90 323.33L41.40 323.20L41.90 323.07L42.40 322.93L42.90 322.79L43.40 322.64L43.90 322.47L44.40 322.30L44.90 322.11L45.40 321.92L45.90 321.71L46.40 321.48L46.90 321.25L47.40 320.99L47.90 320.70L48.40 320.38L48.90 320.03L49.40 319.65L49.90 319.26L50.40 318.84L50.90 318.38L51.40 317.88L51.90 317.34L52.40 316.75L52.90 316.13L53.40 315.47L53.90 314.70L54.40 313.87L54.90 313.04L55.40 312.28L55.90 311.64L56.40 311.06L56.90 310.53L57.40 310.02L57.90 309.53L58.40 309.02L58.90 308.49L59.40 307.95L59.90 307.39L60.40 306.84L60.90 306.29L61.40 305.75L61.90 305.22L62.40 304.71L62.90 304.21L63.40 303.71L63.90 303.20L64.40 302.67L64.90 302.15L65.40 301.63L65.90 301.13L66.40 300.65L66.90 300.21L67.40 299.81L67.90 299.46L68.40 299.18L68.90 298.91L69.40 298.67L69.90 298.43L70.40 298.21L70.90 298.00L71.40 297.81L71.90 297.64L72.40 297.49L72.90 297.35L73.40 297.23L73.90 297.13L74.40 297.03L74.90 296.94L75.40 296.85L75.90 296.77L76.40 296.71L76.90 296.65L77.40 296.62L77.90 296.60L78.40 296.61L78.90 296.63L79.40 296.67L79.90 296.72L80.40 296.79L80.90 296.87L81.40 296.97L81.90 297.08L82.40 297.20L82.90 297.34L83.40 297.48L83.90 297.64L84.40 297.80L84.90 297.98L85.40 298.16L85.90 298.35L86.40 298.55L86.90 298.75L87.40 298.96L87.90 299.17L88.40 299.39L88.90 299.61L89.40 299.84L89.90 300.06L90.40 300.29L90.90 300.52L91.40 300.76L91.90 301.04L92.40 301.37L92.90 301.73L93.40 302.11L93.90 302.51L94.40 302.92L94.90 303.31L95.40 303.68L95.90 304.03L96.40 304.36L96.90 304.68L97.40 305.00L97.90 305.31L98.40 305.62L98.90 305.92L99.40 306.22L99.90 306.52L100.40 306.82L100.90 307.12L101.40 307.41L101.90 307.71L102.40 308.01L102.90 308.30L103.40 308.60L103.90 308.89L104.40 309.17L104.90 309.45L105.40 309.71L105.90 309.96L106.40 310.21L106.90 310.44L107.40 310.67L107.90 310.89L108.40 311.11L108.90 311.32L109.40 311.53L109.90 311.74L110.40 311.95L110.90 312.15L111.40 312.35L111.90 312.55L112.40 312.75L112.90 312.94L113.40 313.14L113.90 313.33L114.40 313.52L114.90 313.71L115.40 313.91L115.90 314.10L116.40 314.30L116.90 314.49L117.40 314.69L117.90 314.88L118.40 315.07L118.90 315.26L119.40 315.44L119.90 315.61L120.40 315.79L120.90 315.95L121.40 316.12L121.90 316.28L122.40 316.44L122.90 316.60L123.40 316.76L123.90 316.91L124.40 317.06L124.90 317.21L125.40 317.36L125.90 317.50L126.40 317.64L126.90 317.78L127.40 317.91L127.90 318.04L128.40 318.17L128.90 318.30L129.40 318.42L129.90 318.54L130.40 318.66L130.90 318.77L131.40 318.89L131.90 319.00L132.40 319.11L132.90 319.22L133.40 319.32L133.90 319.43L134.40 319.53L134.90 319.64L135.40 319.74L135.90 319.84L136.40 319.94L136.90 320.04L137.40 320.13L137.90 320.23L138.40 320.33L138.90 320.42L139.40 320.52L139.90 320.61L140.40 320.70L140.90 320.79L141.40 320.88L141.90 320.97L142.40 321.06L142.90 321.15L143.40 321.23L143.90 321.32L144.40 321.40L144.90 321.48L145.40 321.57L145.90 321.65L146.40 321.72L146.90 321.80L147.40 321.88L147.90 321.96L148.40 322.03L148.90 322.10L149.40 322.18L149.90 322.25L150.40 322.32L150.90 322.39L151.40 322.46L151.90 322.53L152.40 322.60L152.90 322.66L153.40 322.73L153.90 322.79L154.40 322.86L154.90 322.92L155.40 322.99L155.90 323.05L156.40 323.11L156.90 323.17L157.40 323.24L157.90 323.30L158.40 323.36L158.90 323.42L159.40 323.48L159.90 323.54L160.40 323.60L160.90 323.66L161.40 323.72L161.90 323.78L162.40 323.84L162.90 323.89L163.40 323.95L163.90 324.00L164.40 324.05L164.90 324.10L165.40 324.15L165.90 324.20L166.40 324.24" fill="none" stroke="#4060ff" stroke-width="0.85"/>
<path d="M16.90 325.03L17.40 325.03L17.90 325.02L18.40 325.02L18.90 325.01L19.40 325.00L19.90 325.00L20.40 324.99L20.90 324.98L21.40 324.98L21.90 324.97L22.40 324.96L22.90 324.95L23.40 324.94L23.90 324.93L24.40 324.92L24.90 324.91L25.40 324.90L25.90 324.88L26.40 324.86L26.90 324.84L27.40 324.82L27.90 324.79L28.40 324.77L28.90 324.74L29.40 324.71L29.90 324.68L30.40 324.64L30.90 324.61L31.40 324.57L31.90 324.53L32.40 324.48L32.90 324.43L33.40 324.38L33.90 324.32L34.40 324.26L34.90 324.20L35.40 324.13L35.90 324.06L36.40 323.99L36.90 323.91L37.40 323.82L37.90 323.72L38.40 323.61L38.90 323.49L39.40 323.36L39.90 323.22L40.40 323.07L40.90 322.92L41.40 322.76L41.90 322.60L42.40 322.43L42.90 322.25L43.40 322.06L43.90 321.85L44.40 321.63L44.90 321.40L45.40 321.15L45.90 320.88L46.40 320.60L46.90 320.30L47.40 319.97L47.90 319.59L48.40 319.18L48.90 318.73L49.40 318.25L49.90 317.75L50.40 317.21L50.90 316.61L51.40 315.96L51.90 315.25L52.40 314.49L52.90 313.70L53.40 312.79L53.90 311.77L54.40 310.73L54.90 309.75L55.40 308.91L55.90 308.18L56.40 307.50L56.90 306.87L57.40 306.25L57.90 305.62L58.40 304.96L58.90 304.28L59.40 303.59L59.90 302.90L60.40 302.22L60.90 301.54L61.40 300.88L61.90 300.24L62.40 299.62L62.90 299.00L63.40 298.36L63.90 297.70L64.40 297.05L64.90 296.41L65.40 295.79L65.90 295.21L66.40 294.68L66.90 294.21L67.40 293.81L67.90 293.47L68.40 293.15L68.90 292.85L69.40 292.57L69.90 292.30L70.40 292.06L70.90 291.83L71.40 291.63L71.90 291.45L72.40 291.30L72.90 291.17L73.40 291.05L73.90 290.93L74.40 290.82L74.90 290.72L75.40 290.63L75.90 290.57L76.40 290.52L76.90 290.50L77.40 290.51L77.90 290.54L78.40 290.58L78.90 290.65L79.40 290.74L79.90 290.85L80.40 290.97L80.90 291.11L81.40 291.27L81.90 291.44L82.40 291.63L82.90 291.82L83.40 292.03L83.90 292.25L84.40 292.49L84.90 292.73L85.40 292.98L85.90 293.23L86.40 293.50L86.90 293.77L87.40 294.04L87.90 294.32L88.40 294.60L88.90 294.89L89.40 295.17L89.90 295.46L90.40 295.80L90.90 296.19L91.40 296.64L91.90 297.12L92.40 297.61L92.90 298.11L93.40 298.61L93.90 299.07L94.40 299.51L94.90 299.91L95.40 300.32L95.90 300.71L96.40 301.10L96.90 301.48L97.40 301.86L97.90 302.24L98.40 302.61L98.90 302.98L99.40 303.35L99.90 303.72L100.40 304.09L100.90 304.46L101.40 304.83L101.90 305.20L102.40 305.56L102.90 305.90L103.40 306.24L103.90 306.56L104.40 306.87L104.90 307.17L105.40 307.46L105.90 307.74L106.40 308.01L106.90 308.28L107.40 308.54L107.90 308.80L108.40 309.06L108.90 309.31L109.40 309.57L109.90 309.82L110.40 310.06L110.90 310.30L111.40 310.54L111.90 310.78L112.40 311.02L112.90 311.26L113.40 311.50L113.90 311.75L114.40 311.99L114.90 312.24L115.40 312.48L115.90 312.72L116.40 312.95L116.90 313.18L117.40 313.41L117.90 313.63L118.40 313.84L118.90 314.04L119.40 314.25L119.90 314.45L120.40 314.65L120.90 314.85L121.40 315.04L121.90 315.23L122.40 315.42L122.90 315.60L123.40 315.78L123.90 315.96L124.40 316.13L124.90 316.30L125.40 316.46L125.90 316.62L126.40 316.78L126.90 316.93L127.40 317.08L127.90 317.23L128.40 317.38L128.90 317.52L129.40 317.66L129.90 317.79L130.40 317.93L130.90 318.06L131.40 318.19L131.90 318.32L132.40 318.45L132.90 318.58L133.40 318.70L133.90 318.83L134.40 318.95L134.90 319.07L135.40 319.19L135.90 319.31L136.40 319.43L136.90 319.55L137.40 319.66L137.90 319.78L138.40 319.89L138.90 320.00L139.40 320.11L139.90 320.22L140.40 320.33L140.90 320.44L141.40 320.54L141.90 320.64L142.40 320.75L142.90 320.85L143.40 320.95L143.90 321.04L144.40 321.14L144.90 321.23L145.40 321.33L145.90 321.42L146.40 321.51L146.90 321.60L147.40 321.69L147.90 321.78L148.40 321.86L148.90 321.95L149.40 322.03L149.90 322.12L150.40 322.20L150.90 322.28L151.40 322.36L151.90 322.44L152.40 322.52L152.90 322.60L153.40 322.67L153.90 322.75L154.40 322.83L154.90 322.91L155.40 322.98L155.90 323.06L156.40 323.14L156.90 323.21L157.40 323.29L157.90 323.36L158.40 323.43L158.90 323.50L159.40 323.57L159.90 323.64L160.40 323.71L160.90 323.77L161.40 323.84L161.90 323.90L162.40 323.96L162.90 324.01L163.40 324.07L163.90 324.12L164.40 324.18L164.90 324.23L165.40 324.29L165.90 324.34L166.40 324.40" fill="none" stroke="#40f0f0" stroke-width="0.85"/>
<path d="M16.90 324.99L17.40 324.99L17.90 324.98L18.40 324.97L18.90 324.97L19.40 324.96L19.90 324.95L20.40 324.94L20.90 324.94L21.40 324.93L21.90 324.92L22.40 324.91L22.90 324.90L23.40 324.89L23.90 324.88L24.40 324.86L24.90 324.85L25.40 324.83L25.90 324.81L26.40 324.79L26.90 324.77L27.40 324.74L27.90 324.71L28.40 324.68L28.90 324.65L29.40 324.61L29.90 324.58L30.40 324.54L30.90 324.50L31.40 324.45L31.90 324.40L32.40 324.35L32.90 324.29L33.40 324.23L33.90 324.16L34.40 324.09L34.90 324.01L35.40 323.94L35.90 323.85L36.40 323.77L36.90 323.67L37.40 323.56L37.90 323.44L38.40 323.31L38.90 323.17L39.40 323.01L39.90 322.85L40.40 322.68L40.90 322.50L41.40 322.31L41.90 322.12L42.40 321.92L42.90 321.71L43.40 321.48L43.90 321.23L44.40 320.97L44.90 320.69L45.40 320.40L45.90 320.08L46.40 319.74L46.90 319.38L47.40 318.97L47.90 318.52L48.40 318.02L48.90 317.48L49.40 316.90L49.90 316.30L50.40 315.64L50.90 314.91L51.40 314.12L51.90 313.26L52.40 312.36L52.90 311.38L53.40 310.24L53.90 309.03L54.40 307.84L54.90 306.79L55.40 305.90L55.90 305.09L56.40 304.34L56.90 303.61L57.40 302.89L57.90 302.14L58.40 301.35L58.90 300.55L59.40 299.75L59.90 298.95L60.40 298.16L60.90 297.39L61.40 296.64L61.90 295.91L62.40 295.19L62.90 294.45L63.40 293.69L63.90 292.93L64.40 292.18L64.90 291.45L65.40 290.77L65.90 290.14L66.40 289.57L66.90 289.09L67.40 288.69L67.90 288.31L68.40 287.96L68.90 287.63L69.40 287.32L69.90 287.03L70.40 286.77L70.90 286.53L71.40 286.32L71.90 286.14L72.40 285.99L72.90 285.84L73.40 285.71L73.90 285.58L74.40 285.46L74.90 285.36L75.40 285.28L75.90 285.22L76.40 285.20L76.90 285.21L77.40 285.24L77.90 285.30L78.40 285.38L78.90 285.49L79.40 285.61L79.90 285.76L80.40 285.92L80.90 286.10L81.40 286.30L81.90 286.52L82.40 286.75L82.90 287.00L83.40 287.26L83.90 287.53L84.40 287.81L84.90 288.10L85.40 288.40L85.90 288.71L86.40 289.02L86.90 289.34L87.40 289.67L87.90 290.00L88.40 290.33L88.90 290.66L89.40 291.00L89.90 291.41L90.40 291.89L90.90 292.42L91.40 292.99L91.90 293.57L92.40 294.15L92.90 294.72L93.40 295.25L93.90 295.74L94.40 296.21L94.90 296.67L95.40 297.13L95.90 297.58L96.40 298.02L96.90 298.46L97.40 298.90L97.90 299.33L98.40 299.76L98.90 300.19L99.40 300.62L99.90 301.05L100.40 301.49L100.90 301.91L101.40 302.33L101.90 302.75L102.40 303.14L102.90 303.53L103.40 303.90L103.90 304.25L104.40 304.59L104.90 304.92L105.40 305.24L105.90 305.55L106.40 305.86L106.90 306.16L107.40 306.46L107.90 306.76L108.40 307.06L108.90 307.35L109.40 307.64L109.90 307.92L110.40 308.20L110.90 308.48L111.40 308.75L111.90 309.03L112.40 309.32L112.90 309.60L113.40 309.89L113.90 310.17L114.40 310.45L114.90 310.73L115.40 311.00L115.90 311.27L116.40 311.54L116.90 311.79L117.40 312.04L117.90 312.28L118.40 312.52L118.90 312.76L119.40 312.99L119.90 313.22L120.40 313.44L120.90 313.67L121.40 313.89L121.90 314.10L122.40 314.31L122.90 314.51L123.40 314.72L123.90 314.91L124.40 315.10L124.90 315.29L125.40 315.47L125.90 315.65L126.40 315.82L126.90 316.00L127.40 316.16L127.90 316.33L128.40 316.49L128.90 316.65L129.40 316.81L129.90 316.96L130.40 317.12L130.90 317.27L131.40 317.42L131.90 317.56L132.40 317.71L132.90 317.85L133.40 318.00L133.90 318.14L134.40 318.28L134.90 318.42L135.40 318.56L135.90 318.69L136.40 318.83L136.90 318.96L137.40 319.09L137.90 319.22L138.40 319.35L138.90 319.47L139.40 319.60L139.90 319.72L140.40 319.84L140.90 319.96L141.40 320.08L141.90 320.20L142.40 320.31L142.90 320.43L143.40 320.54L143.90 320.65L144.40 320.75L144.90 320.86L145.40 320.97L145.90 321.07L146.40 321.17L146.90 321.27L147.40 321.38L147.90 321.47L148.40 321.57L148.90 321.67L149.40 321.76L149.90 321.86L150.40 321.95L150.90 322.04L151.40 322.13L151.90 322.22L152.40 322.32L152.90 322.41L153.40 322.50L153.90 322.59L154.40 322.68L154.90 322.76L155.40 322.85L155.90 322.94L156.40 323.02L156.90 323.11L157.40 323.19L157.90 323.27L158.40 323.35L158.90 323.43L159.40 323.51L159.90 323.58L160.40 323.66L160.90 323.73L161.40 323.79L161.90 323.86L162.40 323.92L162.90 323.99L163.40 324.05L163.90 324.11L164.40 324.18L164.90 324.24L165.40 324.30L165.90 324.37L166.40 324.43" fill="none" stroke="#f040f0" stroke-width="0.85"/>
<path d="M16.90 324.93L17.40 324.92L17.90 324.92L18.40 324.91L18.90 324.90L19.40 324.89L19.90 324.88L20.40 324.87L20.90 324.86L21.40 324.85L21.90 324.84L22.40 324.83L22.90 324.82L23.40 324.81L23.90 324.79L24.40 324.78L24.90 324.76L25.40 324.74L25.90 324.72L26.40 324.69L26.90 324.66L27.40 324.63L27.90 324.59L28.40 324.55L28.90 324.51L29.40 324.47L29.90 324.43L30.40 324.38L30.90 324.33L31.40 324.27L31.90 324.21L32.40 324.14L32.90 324.07L33.40 324.00L33.90 323.91L34.40 323.83L34.90 323.74L35.40 323.64L35.90 323.54L36.40 323.43L36.90 323.31L37.40 323.18L37.90 323.03L38.40 322.87L38.90 322.69L39.40 322.50L39.90 322.30L40.40 322.08L40.90 321.86L41.40 321.63L41.90 321.40L42.40 321.15L42.90 320.88L43.40 320.60L43.90 320.30L44.40 319.97L44.90 319.62L45.40 319.25L45.90 318.86L46.40 318.44L46.90 317.98L47.40 317.46L47.90 316.88L48.40 316.25L48.90 315.58L49.40 314.86L49.90 314.10L50.40 313.26L50.90 312.33L51.40 311.33L51.90 310.26L52.40 309.14L52.90 307.83L53.40 306.38L53.90 304.92L54.40 303.55L54.90 302.40L55.40 301.39L55.90 300.45L56.40 299.56L56.90 298.69L57.40 297.79L57.90 296.85L58.40 295.88L58.90 294.91L59.40 293.94L59.90 292.97L60.40 292.03L60.90 291.11L61.40 290.22L61.90 289.35L62.40 288.46L62.90 287.54L63.40 286.61L63.90 285.70L64.40 284.81L64.90 283.97L65.40 283.19L65.90 282.48L66.40 281.88L66.90 281.37L67.40 280.92L67.90 280.48L68.40 280.07L68.90 279.69L69.40 279.34L69.90 279.02L70.40 278.73L70.90 278.47L71.40 278.24L71.90 278.06L72.40 277.89L72.90 277.72L73.40 277.56L73.90 277.42L74.40 277.29L74.90 277.20L75.40 277.13L75.90 277.10L76.40 277.11L76.90 277.15L77.40 277.22L77.90 277.32L78.40 277.45L78.90 277.60L79.40 277.78L79.90 277.98L80.40 278.21L80.90 278.45L81.40 278.72L81.90 279.00L82.40 279.30L82.90 279.62L83.40 279.95L83.90 280.29L84.40 280.64L84.90 281.01L85.40 281.39L85.90 281.77L86.40 282.16L86.90 282.56L87.40 282.96L87.90 283.36L88.40 283.76L88.90 284.19L89.40 284.71L89.90 285.31L90.40 285.97L90.90 286.66L91.40 287.37L91.90 288.07L92.40 288.75L92.90 289.38L93.40 289.96L93.90 290.53L94.40 291.09L94.90 291.64L95.40 292.18L95.90 292.72L96.40 293.25L96.90 293.78L97.40 294.30L97.90 294.82L98.40 295.34L98.90 295.87L99.40 296.39L99.90 296.92L100.40 297.43L100.90 297.94L101.40 298.43L101.90 298.90L102.40 299.36L102.90 299.79L103.40 300.21L103.90 300.62L104.40 301.01L104.90 301.40L105.40 301.77L105.90 302.15L106.40 302.51L106.90 302.87L107.40 303.23L107.90 303.59L108.40 303.94L108.90 304.29L109.40 304.63L109.90 304.96L110.40 305.30L110.90 305.64L111.40 305.98L111.90 306.33L112.40 306.67L112.90 307.02L113.40 307.36L113.90 307.70L114.40 308.03L114.90 308.36L115.40 308.68L115.90 309.00L116.40 309.30L116.90 309.59L117.40 309.88L117.90 310.17L118.40 310.45L118.90 310.73L119.40 311.01L119.90 311.28L120.40 311.54L120.90 311.80L121.40 312.06L121.90 312.31L122.40 312.55L122.90 312.79L123.40 313.03L123.90 313.25L124.40 313.47L124.90 313.69L125.40 313.90L125.90 314.11L126.40 314.32L126.90 314.52L127.40 314.71L127.90 314.91L128.40 315.10L128.90 315.29L129.40 315.47L129.90 315.65L130.40 315.84L130.90 316.01L131.40 316.19L131.90 316.36L132.40 316.54L132.90 316.71L133.40 316.88L133.90 317.05L134.40 317.21L134.90 317.38L135.40 317.54L135.90 317.70L136.40 317.86L136.90 318.02L137.40 318.17L137.90 318.33L138.40 318.48L138.90 318.63L139.40 318.78L139.90 318.92L140.40 319.06L140.90 319.20L141.40 319.34L141.90 319.48L142.40 319.61L142.90 319.75L143.40 319.88L143.90 320.01L144.40 320.13L144.90 320.26L145.40 320.38L145.90 320.51L146.40 320.63L146.90 320.75L147.40 320.86L147.90 320.98L148.40 321.09L148.90 321.21L149.40 321.32L149.90 321.43L150.40 321.54L150.90 321.65L151.40 321.76L151.90 321.87L152.40 321.98L152.90 322.09L153.40 322.20L153.90 322.31L154.40 322.41L154.90 322.52L155.40 322.62L155.90 322.72L156.40 322.82L156.90 322.92L157.40 323.02L157.90 323.11L158.40 323.20L158.90 323.29L159.40 323.38L159.90 323.46L160.40 323.54L160.90 323.62L161.40 323.69L161.90 323.77L162.40 323.85L162.90 323.93L163.40 324.01L163.90 324.08L164.40 324.16L164.90 324.23L165.40 324.30L165.90 324.37L166.40 324.43" fill="none" stroke="#e8e800" stroke-width="0.85"/>
<path d="M16.90 324.88L17.40 324.88L17.90 324.87L18.40 324.86L18.90 324.85L19.40 324.84L19.90 324.83L20.40 324.82L20.90 324.81L21.40 324.80L21.90 324.79L22.40 324.77L22.90 324.76L23.40 324.74L23.90 324.73L24.40 324.71L24.90 324.69L25.40 324.67L25.90 324.65L26.40 324.62L26.90 324.59L27.40 324.55L27.90 324.51L28.40 324.47L28.90 324.43L29.40 324.38L29.90 324.33L30.40 324.28L30.90 324.22L31.40 324.16L31.90 324.09L32.40 324.01L32.90 323.93L33.40 323.85L33.90 323.76L34.40 323.66L34.90 323.55L35.40 323.45L35.90 323.33L36.40 323.21L36.90 323.08L37.40 322.93L37.90 322.77L38.40 322.58L38.90 322.38L39.40 322.17L39.90 321.94L40.40 321.70L40.90 321.44L41.40 321.18L41.90 320.91L42.40 320.63L42.90 320.33L43.40 320.00L43.90 319.66L44.40 319.29L44.90 318.90L45.40 318.47L45.90 318.02L46.40 317.55L46.90 317.02L47.40 316.43L47.90 315.78L48.40 315.06L48.90 314.29L49.40 313.46L49.90 312.60L50.40 311.64L50.90 310.58L51.40 309.42L51.90 308.20L52.40 306.90L52.90 305.41L53.40 303.74L53.90 302.05L54.40 300.47L54.90 299.14L55.40 297.97L55.90 296.89L56.40 295.86L56.90 294.85L57.40 293.81L57.90 292.72L58.40 291.61L58.90 290.48L59.40 289.36L59.90 288.25L60.40 287.16L60.90 286.11L61.40 285.08L61.90 284.08L62.40 283.04L62.90 281.98L63.40 280.91L63.90 279.86L64.40 278.84L64.90 277.88L65.40 276.99L65.90 276.20L66.40 275.53L66.90 274.97L67.40 274.44L67.90 273.95L68.40 273.49L68.90 273.05L69.40 272.66L69.90 272.29L70.40 271.97L70.90 271.68L71.40 271.44L71.90 271.23L72.40 271.03L72.90 270.84L73.40 270.67L73.90 270.51L74.40 270.38L74.90 270.28L75.40 270.22L75.90 270.20L76.40 270.23L76.90 270.29L77.40 270.38L77.90 270.51L78.40 270.67L78.90 270.86L79.40 271.08L79.90 271.33L80.40 271.60L80.90 271.89L81.40 272.21L81.90 272.55L82.40 272.90L82.90 273.28L83.40 273.67L83.90 274.07L84.40 274.49L84.90 274.92L85.40 275.36L85.90 275.80L86.40 276.26L86.90 276.72L87.40 277.18L87.90 277.65L88.40 278.12L88.90 278.69L89.40 279.35L89.90 280.09L90.40 280.88L90.90 281.69L91.40 282.51L91.90 283.30L92.40 284.04L92.90 284.72L93.40 285.38L93.90 286.03L94.40 286.67L94.90 287.30L95.40 287.92L95.90 288.54L96.40 289.15L96.90 289.75L97.40 290.36L97.90 290.96L98.40 291.56L98.90 292.17L99.40 292.77L99.90 293.37L100.40 293.95L100.90 294.52L101.40 295.07L101.90 295.60L102.40 296.10L102.90 296.59L103.40 297.06L103.90 297.51L104.40 297.96L104.90 298.39L105.40 298.82L105.90 299.24L106.40 299.66L106.90 300.08L107.40 300.49L107.90 300.90L108.40 301.30L108.90 301.69L109.40 302.08L109.90 302.46L110.40 302.86L110.90 303.25L111.40 303.65L111.90 304.05L112.40 304.44L112.90 304.84L113.40 305.23L113.90 305.62L114.40 306.00L114.90 306.37L115.40 306.72L115.90 307.07L116.40 307.41L116.90 307.74L117.40 308.08L117.90 308.40L118.40 308.72L118.90 309.04L119.40 309.35L119.90 309.65L120.40 309.95L120.90 310.25L121.40 310.53L121.90 310.81L122.40 311.09L122.90 311.35L123.40 311.61L123.90 311.87L124.40 312.11L124.90 312.36L125.40 312.60L125.90 312.83L126.40 313.06L126.90 313.29L127.40 313.51L127.90 313.73L128.40 313.94L128.90 314.16L129.40 314.37L129.90 314.57L130.40 314.78L130.90 314.98L131.40 315.18L131.90 315.38L132.40 315.58L132.90 315.77L133.40 315.97L133.90 316.16L134.40 316.35L134.90 316.53L135.40 316.72L135.90 316.90L136.40 317.08L136.90 317.26L137.40 317.43L137.90 317.61L138.40 317.78L138.90 317.95L139.40 318.11L139.90 318.28L140.40 318.44L140.90 318.59L141.40 318.75L141.90 318.90L142.40 319.06L142.90 319.21L143.40 319.35L143.90 319.50L144.40 319.64L144.90 319.78L145.40 319.92L145.90 320.06L146.40 320.20L146.90 320.33L147.40 320.47L147.90 320.60L148.40 320.73L148.90 320.86L149.40 320.98L149.90 321.11L150.40 321.24L150.90 321.37L151.40 321.49L151.90 321.62L152.40 321.74L152.90 321.87L153.40 321.99L153.90 322.11L154.40 322.23L154.90 322.35L155.40 322.46L155.90 322.58L156.40 322.69L156.90 322.80L157.40 322.90L157.90 323.00L158.40 323.10L158.90 323.20L159.40 323.29L159.90 323.38L160.40 323.47L160.90 323.56L161.40 323.65L161.90 323.74L162.40 323.83L162.90 323.92L163.40 324.00L163.90 324.09L164.40 324.17L164.90 324.24L165.40 324.32L165.90 324.38L166.40 324.45" fill="none" stroke="#808040" stroke-width="0.85"/>
<path d="M16.90 324.81L17.40 324.80L17.90 324.79L18.40 324.78L18.90 324.77L19.40 324.76L19.90 324.75L20.40 324.73L20.90 324.72L21.40 324.71L21.90 324.69L22.40 324.68L22.90 324.66L23.40 324.64L23.90 324.62L24.40 324.60L24.90 324.58L25.40 324.55L25.90 324.52L26.40 324.49L26.90 324.45L27.40 324.40L27.90 324.36L28.40 324.30L28.90 324.25L29.40 324.19L29.90 324.13L30.40 324.07L30.90 324.00L31.40 323.92L31.90 323.84L32.40 323.75L32.90 323.65L33.40 323.55L33.90 323.44L34.40 323.32L34.90 323.19L35.40 323.06L35.90 322.93L36.40 322.78L36.90 322.62L37.40 322.43L37.90 322.23L38.40 322.00L38.90 321.76L39.40 321.50L39.90 321.22L40.40 320.93L40.90 320.63L41.40 320.32L41.90 320.00L42.40 319.66L42.90 319.29L43.40 318.90L43.90 318.48L44.40 318.04L44.90 317.56L45.40 317.05L45.90 316.51L46.40 315.93L46.90 315.27L47.40 314.54L47.90 313.73L48.40 312.85L48.90 311.92L49.40 310.93L49.90 309.87L50.40 308.68L50.90 307.38L51.40 305.98L51.90 304.51L52.40 302.89L52.90 301.01L53.40 299.03L53.90 297.12L54.40 295.45L54.90 294.03L55.40 292.74L55.90 291.52L56.40 290.35L56.90 289.16L57.40 287.92L57.90 286.63L58.40 285.32L58.90 284.01L59.40 282.71L59.90 281.44L60.40 280.19L60.90 278.98L61.40 277.81L61.90 276.62L62.40 275.40L62.90 274.15L63.40 272.92L63.90 271.72L64.40 270.57L64.90 269.50L65.40 268.53L65.90 267.69L66.40 267.00L66.90 266.37L67.40 265.79L67.90 265.23L68.40 264.72L68.90 264.24L69.40 263.80L69.90 263.40L70.40 263.05L70.90 262.75L71.40 262.49L71.90 262.26L72.40 262.04L72.90 261.82L73.40 261.63L73.90 261.46L74.40 261.33L74.90 261.24L75.40 261.20L75.90 261.21L76.40 261.27L76.90 261.37L77.40 261.50L77.90 261.67L78.40 261.88L78.90 262.12L79.40 262.40L79.90 262.70L80.40 263.03L80.90 263.39L81.40 263.77L81.90 264.18L82.40 264.60L82.90 265.05L83.40 265.51L83.90 265.99L84.40 266.49L84.90 266.99L85.40 267.51L85.90 268.04L86.40 268.57L86.90 269.11L87.40 269.65L87.90 270.19L88.40 270.79L88.90 271.52L89.40 272.35L89.90 273.25L90.40 274.19L90.90 275.14L91.40 276.07L91.90 276.97L92.40 277.78L92.90 278.56L93.40 279.32L93.90 280.07L94.40 280.80L94.90 281.53L95.40 282.25L95.90 282.96L96.40 283.67L96.90 284.37L97.40 285.07L97.90 285.77L98.40 286.47L98.90 287.18L99.40 287.87L99.90 288.56L100.40 289.23L100.90 289.88L101.40 290.51L101.90 291.10L102.40 291.68L102.90 292.23L103.40 292.77L103.90 293.29L104.40 293.80L104.90 294.30L105.40 294.79L105.90 295.28L106.40 295.76L106.90 296.25L107.40 296.72L107.90 297.19L108.40 297.65L108.90 298.10L109.40 298.55L109.90 299.01L110.40 299.47L110.90 299.93L111.40 300.39L111.90 300.85L112.40 301.31L112.90 301.77L113.40 302.22L113.90 302.67L114.40 303.10L114.90 303.52L115.40 303.93L115.90 304.33L116.40 304.72L116.90 305.11L117.40 305.49L117.90 305.87L118.40 306.24L118.90 306.60L119.40 306.96L119.90 307.31L120.40 307.65L120.90 307.99L121.40 308.32L121.90 308.64L122.40 308.95L122.90 309.26L123.40 309.55L123.90 309.85L124.40 310.13L124.90 310.41L125.40 310.69L125.90 310.96L126.40 311.22L126.90 311.48L127.40 311.74L127.90 311.99L128.40 312.24L128.90 312.48L129.40 312.73L129.90 312.97L130.40 313.20L130.90 313.44L131.40 313.67L131.90 313.90L132.40 314.13L132.90 314.35L133.40 314.58L133.90 314.80L134.40 315.02L134.90 315.23L135.40 315.45L135.90 315.66L136.40 315.86L136.90 316.07L137.40 316.27L137.90 316.47L138.40 316.67L138.90 316.86L139.40 317.05L139.90 317.24L140.40 317.43L140.90 317.61L141.40 317.79L141.90 317.97L142.40 318.14L142.90 318.31L143.40 318.48L143.90 318.65L144.40 318.82L144.90 318.98L145.40 319.14L145.90 319.30L146.40 319.46L146.90 319.62L147.40 319.77L147.90 319.92L148.40 320.07L148.90 320.22L149.40 320.37L149.90 320.52L150.40 320.66L150.90 320.81L151.40 320.96L151.90 321.10L152.40 321.25L152.90 321.39L153.40 321.53L153.90 321.67L154.40 321.81L154.90 321.95L155.40 322.08L155.90 322.21L156.40 322.34L156.90 322.46L157.40 322.58L157.90 322.70L158.40 322.81L158.90 322.92L159.40 323.03L159.90 323.13L160.40 323.23L160.90 323.34L161.40 323.44L161.90 323.55L162.40 323.65L162.90 323.75L163.40 323.85L163.90 323.95L164.40 324.04L164.90 324.12L165.40 324.20L165.90 324.28L166.40 324.35" fill="none" stroke="#3040c0" stroke-width="0.85"/>
<path d="M16.90 324.76L17.40 324.74L17.90 324.73L18.40 324.72L18.90 324.71L19.40 324.70L19.90 324.68L20.40 324.67L20.90 324.66L21.40 324.64L21.90 324.62L22.40 324.61L22.90 324.59L23.40 324.57L23.90 324.55L24.40 324.53L24.90 324.50L25.40 324.48L25.90 324.44L26.40 324.40L26.90 324.36L27.40 324.31L27.90 324.26L28.40 324.20L28.90 324.14L29.40 324.08L29.90 324.02L30.40 323.95L30.90 323.87L31.40 323.78L31.90 323.69L32.40 323.59L32.90 323.48L33.40 323.37L33.90 323.25L34.40 323.11L34.90 322.98L35.40 322.83L35.90 322.67L36.40 322.51L36.90 322.33L37.40 322.13L37.90 321.90L38.40 321.65L38.90 321.38L39.40 321.09L39.90 320.78L40.40 320.46L40.90 320.12L41.40 319.77L41.90 319.40L42.40 319.02L42.90 318.61L43.40 318.17L43.90 317.70L44.40 317.19L44.90 316.66L45.40 316.08L45.90 315.47L46.40 314.81L46.90 314.08L47.40 313.26L47.90 312.35L48.40 311.36L48.90 310.30L49.40 309.18L49.90 307.98L50.40 306.63L50.90 305.16L51.40 303.57L51.90 301.89L52.40 300.06L52.90 297.92L53.40 295.66L53.90 293.48L54.40 291.56L54.90 289.94L55.40 288.46L55.90 287.08L56.40 285.73L56.90 284.37L57.40 282.95L57.90 281.48L58.40 279.98L58.90 278.49L59.40 277.01L59.90 275.55L60.40 274.14L60.90 272.76L61.40 271.43L61.90 270.06L62.40 268.65L62.90 267.23L63.40 265.83L63.90 264.46L64.40 263.17L64.90 261.97L65.40 260.89L65.90 259.96L66.40 259.19L66.90 258.49L67.40 257.83L67.90 257.21L68.40 256.63L68.90 256.10L69.40 255.61L69.90 255.17L70.40 254.78L70.90 254.45L71.40 254.18L71.90 253.92L72.40 253.66L72.90 253.42L73.40 253.21L73.90 253.04L74.40 252.90L74.90 252.82L75.40 252.80L75.90 252.84L76.40 252.92L76.90 253.05L77.40 253.22L77.90 253.44L78.40 253.69L78.90 253.98L79.40 254.31L79.90 254.67L80.40 255.07L80.90 255.49L81.40 255.94L81.90 256.42L82.40 256.92L82.90 257.44L83.40 257.98L83.90 258.54L84.40 259.11L84.90 259.70L85.40 260.29L85.90 260.90L86.40 261.51L86.90 262.13L87.40 262.75L87.90 263.39L88.40 264.18L88.90 265.09L89.40 266.10L89.90 267.16L90.40 268.24L90.90 269.32L91.40 270.35L91.90 271.31L92.40 272.21L92.90 273.08L93.40 273.94L93.90 274.78L94.40 275.61L94.90 276.44L95.40 277.25L95.90 278.06L96.40 278.86L96.90 279.66L97.40 280.46L97.90 281.26L98.40 282.07L98.90 282.87L99.40 283.65L99.90 284.42L100.40 285.17L100.90 285.88L101.40 286.57L101.90 287.22L102.40 287.86L102.90 288.47L103.40 289.07L103.90 289.65L104.40 290.22L104.90 290.79L105.40 291.34L105.90 291.90L106.40 292.45L106.90 292.99L107.40 293.53L107.90 294.05L108.40 294.57L108.90 295.08L109.40 295.60L109.90 296.12L110.40 296.65L110.90 297.18L111.40 297.71L111.90 298.24L112.40 298.76L112.90 299.27L113.40 299.78L113.90 300.27L114.40 300.75L114.90 301.22L115.40 301.67L115.90 302.12L116.40 302.56L116.90 302.99L117.40 303.42L117.90 303.84L118.40 304.25L118.90 304.66L119.40 305.06L119.90 305.45L120.40 305.83L120.90 306.20L121.40 306.57L121.90 306.92L122.40 307.27L122.90 307.60L123.40 307.93L123.90 308.26L124.40 308.58L124.90 308.89L125.40 309.19L125.90 309.49L126.40 309.79L126.90 310.08L127.40 310.37L127.90 310.65L128.40 310.93L128.90 311.20L129.40 311.48L129.90 311.75L130.40 312.01L130.90 312.28L131.40 312.54L131.90 312.80L132.40 313.05L132.90 313.31L133.40 313.56L133.90 313.81L134.40 314.05L134.90 314.29L135.40 314.53L135.90 314.77L136.40 315.00L136.90 315.23L137.40 315.45L137.90 315.68L138.40 315.90L138.90 316.11L139.40 316.33L139.90 316.53L140.40 316.74L140.90 316.94L141.40 317.15L141.90 317.34L142.40 317.54L142.90 317.73L143.40 317.92L143.90 318.11L144.40 318.29L144.90 318.48L145.40 318.66L145.90 318.84L146.40 319.01L146.90 319.19L147.40 319.36L147.90 319.53L148.40 319.70L148.90 319.87L149.40 320.04L149.90 320.20L150.40 320.37L150.90 320.54L151.40 320.70L151.90 320.87L152.40 321.03L152.90 321.19L153.40 321.35L153.90 321.50L154.40 321.65L154.90 321.80L155.40 321.95L155.90 322.09L156.40 322.23L156.90 322.36L157.40 322.49L157.90 322.61L158.40 322.73L158.90 322.85L159.40 322.97L159.90 323.09L160.40 323.21L160.90 323.33L161.40 323.45L161.90 323.56L162.40 323.67L162.90 323.78L163.40 323.89L163.90 323.98L164.40 324.07L164.90 324.16L165.40 324.23L165.90 324.30L166.40 324.36" fill="none" stroke="#8030b0" stroke-width="0.85"/>
<path d="M16.90 324.70L17.40 324.69L17.90 324.67L18.40 324.66L18.90 324.65L19.40 324.63L19.90 324.62L20.40 324.60L20.90 324.59L21.40 324.57L21.90 324.55L22.40 324.53L22.90 324.51L23.40 324.49L23.90 324.47L24.40 324.45L24.90 324.42L25.40 324.39L25.90 324.35L26.40 324.31L26.90 324.26L27.40 324.21L27.90 324.15L28.40 324.09L28.90 324.02L29.40 323.95L29.90 323.88L30.40 323.80L30.90 323.72L31.40 323.62L31.90 323.52L32.40 323.41L32.90 323.29L33.40 323.17L33.90 323.03L34.40 322.89L34.90 322.73L35.40 322.57L35.90 322.40L36.40 322.22L36.90 322.02L37.40 321.80L37.90 321.55L38.40 321.27L38.90 320.97L39.40 320.65L39.90 320.31L40.40 319.95L40.90 319.57L41.40 319.19L41.90 318.78L42.40 318.36L42.90 317.91L43.40 317.42L43.90 316.90L44.40 316.34L44.90 315.75L45.40 315.12L45.90 314.44L46.40 313.72L46.90 312.91L47.40 311.99L47.90 310.99L48.40 309.90L48.90 308.73L49.40 307.49L49.90 306.16L50.40 304.67L50.90 303.05L51.40 301.29L51.90 299.44L52.40 297.41L52.90 295.05L53.40 292.56L53.90 290.14L54.40 288.03L54.90 286.23L55.40 284.60L55.90 283.07L56.40 281.58L56.90 280.08L57.40 278.51L57.90 276.88L58.40 275.23L58.90 273.58L59.40 271.94L59.90 270.34L60.40 268.77L60.90 267.25L61.40 265.78L61.90 264.27L62.40 262.71L62.90 261.15L63.40 259.59L63.90 258.09L64.40 256.66L64.90 255.33L65.40 254.14L65.90 253.11L66.40 252.26L66.90 251.49L67.40 250.76L67.90 250.07L68.40 249.43L68.90 248.84L69.40 248.30L69.90 247.82L70.40 247.39L70.90 247.03L71.40 246.72L71.90 246.43L72.40 246.15L72.90 245.89L73.40 245.66L73.90 245.46L74.40 245.31L74.90 245.22L75.40 245.20L75.90 245.24L76.40 245.33L76.90 245.47L77.40 245.67L77.90 245.90L78.40 246.18L78.90 246.51L79.40 246.87L79.90 247.27L80.40 247.71L80.90 248.17L81.40 248.67L81.90 249.20L82.40 249.75L82.90 250.33L83.40 250.92L83.90 251.54L84.40 252.17L84.90 252.82L85.40 253.48L85.90 254.15L86.40 254.82L86.90 255.51L87.40 256.19L87.90 256.90L88.40 257.77L88.90 258.78L89.40 259.89L89.90 261.06L90.40 262.26L90.90 263.45L91.40 264.60L91.90 265.66L92.40 266.64L92.90 267.61L93.40 268.55L93.90 269.49L94.40 270.41L94.90 271.31L95.40 272.21L95.90 273.10L96.40 273.99L96.90 274.87L97.40 275.76L97.90 276.65L98.40 277.54L98.90 278.42L99.40 279.29L99.90 280.14L100.40 280.96L100.90 281.75L101.40 282.51L101.90 283.23L102.40 283.93L102.90 284.61L103.40 285.27L103.90 285.91L104.40 286.55L104.90 287.17L105.40 287.78L105.90 288.40L106.40 289.00L106.90 289.61L107.40 290.19L107.90 290.77L108.40 291.34L108.90 291.91L109.40 292.49L109.90 293.07L110.40 293.65L110.90 294.23L111.40 294.82L111.90 295.40L112.40 295.98L112.90 296.54L113.40 297.10L113.90 297.65L114.40 298.18L114.90 298.69L115.40 299.19L115.90 299.68L116.40 300.17L116.90 300.65L117.40 301.12L117.90 301.59L118.40 302.05L118.90 302.49L119.40 302.93L119.90 303.37L120.40 303.79L120.90 304.20L121.40 304.60L121.90 305.00L122.40 305.38L122.90 305.75L123.40 306.11L123.90 306.47L124.40 306.82L124.90 307.17L125.40 307.51L125.90 307.84L126.40 308.16L126.90 308.49L127.40 308.80L127.90 309.11L128.40 309.42L128.90 309.73L129.40 310.03L129.90 310.32L130.40 310.62L130.90 310.91L131.40 311.20L131.90 311.49L132.40 311.77L132.90 312.05L133.40 312.33L133.90 312.60L134.40 312.87L134.90 313.14L135.40 313.40L135.90 313.66L136.40 313.92L136.90 314.17L137.40 314.42L137.90 314.67L138.40 314.91L138.90 315.15L139.40 315.38L139.90 315.62L140.40 315.84L140.90 316.07L141.40 316.29L141.90 316.51L142.40 316.72L142.90 316.94L143.40 317.15L143.90 317.36L144.40 317.56L144.90 317.76L145.40 317.96L145.90 318.16L146.40 318.35L146.90 318.55L147.40 318.73L147.90 318.92L148.40 319.11L148.90 319.30L149.40 319.48L149.90 319.67L150.40 319.85L150.90 320.04L151.40 320.22L151.90 320.40L152.40 320.58L152.90 320.76L153.40 320.93L153.90 321.10L154.40 321.27L154.90 321.43L155.40 321.59L155.90 321.75L156.40 321.90L156.90 322.05L157.40 322.19L157.90 322.33L158.40 322.46L158.90 322.59L159.40 322.72L159.90 322.86L160.40 322.99L160.90 323.12L161.40 323.25L161.90 323.38L162.40 323.50L162.90 323.62L163.40 323.74L163.90 323.85L164.40 323.95L164.90 324.04L165.40 324.12L165.90 324.20L166.40 324.26" fill="none" stroke="#803030" stroke-width="0.85"/>
<path d="M16.90 324.67L17.40 324.66L17.90 324.64L18.40 324.63L18.90 324.62L19.40 324.60L19.90 324.59L20.40 324.57L20.90 324.56L21.40 324.54L21.90 324.52L22.40 324.50L22.90 324.48L23.40 324.46L23.90 324.44L24.40 324.41L24.90 324.38L25.40 324.35L25.90 324.32L26.40 324.28L26.90 324.23L27.40 324.18L27.90 324.12L28.40 324.06L28.90 323.99L29.40 323.92L29.90 323.84L30.40 323.76L30.90 323.68L31.40 323.58L31.90 323.48L32.40 323.37L32.90 323.24L33.40 323.11L33.90 322.97L34.40 322.82L34.90 322.66L35.40 322.49L35.90 322.31L36.40 322.13L36.90 321.93L37.40 321.70L37.90 321.45L38.40 321.17L38.90 320.86L39.40 320.52L39.90 320.16L40.40 319.79L40.90 319.39L41.40 318.98L41.90 318.55L42.40 318.11L42.90 317.64L43.40 317.13L43.90 316.59L44.40 316.00L44.90 315.38L45.40 314.72L45.90 314.00L46.40 313.25L46.90 312.42L47.40 311.47L47.90 310.42L48.40 309.28L48.90 308.05L49.40 306.73L49.90 305.34L50.40 303.79L50.90 302.08L51.40 300.23L51.90 298.26L52.40 296.16L52.90 293.69L53.40 291.02L53.90 288.38L54.40 286.01L54.90 284.03L55.40 282.24L55.90 280.57L56.40 278.97L56.90 277.36L57.40 275.68L57.90 273.93L58.40 272.16L58.90 270.38L59.40 268.62L59.90 266.88L60.40 265.19L60.90 263.55L61.40 261.96L61.90 260.34L62.40 258.67L62.90 256.98L63.40 255.31L63.90 253.68L64.40 252.14L64.90 250.71L65.40 249.42L65.90 248.32L66.40 247.41L66.90 246.58L67.40 245.79L67.90 245.06L68.40 244.37L68.90 243.74L69.40 243.16L69.90 242.65L70.40 242.19L70.90 241.81L71.40 241.48L71.90 241.17L72.40 240.87L72.90 240.59L73.40 240.35L73.90 240.15L74.40 240.00L74.90 239.91L75.40 239.90L75.90 239.96L76.40 240.07L76.90 240.24L77.40 240.45L77.90 240.72L78.40 241.04L78.90 241.40L79.40 241.80L79.90 242.24L80.40 242.72L80.90 243.23L81.40 243.78L81.90 244.36L82.40 244.96L82.90 245.59L83.40 246.24L83.90 246.91L84.40 247.60L84.90 248.30L85.40 249.01L85.90 249.74L86.40 250.47L86.90 251.20L87.40 251.94L87.90 252.78L88.40 253.79L88.90 254.93L89.40 256.16L89.90 257.44L90.40 258.73L90.90 259.99L91.40 261.18L91.90 262.27L92.40 263.32L92.90 264.35L93.40 265.36L93.90 266.36L94.40 267.34L94.90 268.31L95.40 269.28L95.90 270.23L96.40 271.18L96.90 272.13L97.40 273.09L97.90 274.05L98.40 275.00L98.90 275.94L99.40 276.86L99.90 277.76L100.40 278.62L100.90 279.45L101.40 280.24L101.90 281.00L102.40 281.73L102.90 282.45L103.40 283.15L103.90 283.83L104.40 284.50L104.90 285.17L105.40 285.83L105.90 286.48L106.40 287.13L106.90 287.77L107.40 288.39L107.90 289.01L108.40 289.62L108.90 290.24L109.40 290.86L109.90 291.49L110.40 292.12L110.90 292.75L111.40 293.37L111.90 294.00L112.40 294.61L112.90 295.21L113.40 295.80L113.90 296.37L114.40 296.92L114.90 297.46L115.40 297.99L115.90 298.52L116.40 299.03L116.90 299.54L117.40 300.04L117.90 300.53L118.40 301.02L118.90 301.49L119.40 301.95L119.90 302.41L120.40 302.85L120.90 303.28L121.40 303.70L121.90 304.11L122.40 304.51L122.90 304.90L123.40 305.29L123.90 305.67L124.40 306.03L124.90 306.40L125.40 306.75L125.90 307.10L126.40 307.45L126.90 307.79L127.40 308.12L127.90 308.45L128.40 308.78L128.90 309.10L129.40 309.42L129.90 309.74L130.40 310.05L130.90 310.36L131.40 310.67L131.90 310.98L132.40 311.28L132.90 311.57L133.40 311.87L133.90 312.16L134.40 312.44L134.90 312.73L135.40 313.00L135.90 313.28L136.40 313.55L136.90 313.82L137.40 314.08L137.90 314.34L138.40 314.59L138.90 314.85L139.40 315.09L139.90 315.34L140.40 315.58L140.90 315.81L141.40 316.05L141.90 316.28L142.40 316.51L142.90 316.73L143.40 316.95L143.90 317.17L144.40 317.39L144.90 317.60L145.40 317.81L145.90 318.02L146.40 318.22L146.90 318.43L147.40 318.63L147.90 318.83L148.40 319.03L148.90 319.23L149.40 319.43L149.90 319.63L150.40 319.83L150.90 320.02L151.40 320.22L151.90 320.41L152.40 320.59L152.90 320.78L153.40 320.96L153.90 321.14L154.40 321.31L154.90 321.48L155.40 321.65L155.90 321.81L156.40 321.96L156.90 322.11L157.40 322.26L157.90 322.39L158.40 322.54L158.90 322.68L159.40 322.82L159.90 322.96L160.40 323.10L160.90 323.24L161.40 323.37L161.90 323.50L162.40 323.63L162.90 323.74L163.40 323.85L163.90 323.95L164.40 324.04L164.90 324.12L165.40 324.19L165.90 324.24L166.40 324.28" fill="none" stroke="#308030" stroke-width="0.85"/>
<path d="M16.90 324.63L17.40 324.61L17.90 324.60L18.40 324.58L18.90 324.57L19.40 324.55L19.90 324.53L20.40 324.52L20.90 324.50L21.40 324.48L21.90 324.46L22.40 324.44L22.90 324.42L23.40 324.40L23.90 324.37L24.40 324.34L24.90 324.32L25.40 324.28L25.90 324.25L26.40 324.20L26.90 324.15L27.40 324.10L27.90 324.04L28.40 323.97L28.90 323.89L29.40 323.82L29.90 323.74L30.40 323.65L30.90 323.56L31.40 323.46L31.90 323.34L32.40 323.22L32.90 323.09L33.40 322.95L33.90 322.80L34.40 322.64L34.90 322.47L35.40 322.29L35.90 322.09L36.40 321.89L36.90 321.68L37.40 321.44L37.90 321.17L38.40 320.86L38.90 320.53L39.40 320.17L39.90 319.79L40.40 319.38L40.90 318.96L41.40 318.51L41.90 318.06L42.40 317.58L42.90 317.07L43.40 316.53L43.90 315.94L44.40 315.32L44.90 314.65L45.40 313.93L45.90 313.17L46.40 312.36L46.90 311.46L47.40 310.45L47.90 309.33L48.40 308.10L48.90 306.77L49.40 305.37L49.90 303.87L50.40 302.21L50.90 300.37L51.40 298.38L51.90 296.27L52.40 294.01L52.90 291.36L53.40 288.49L53.90 285.65L54.40 283.11L54.90 280.98L55.40 279.06L55.90 277.27L56.40 275.55L56.90 273.82L57.40 272.02L57.90 270.14L58.40 268.24L58.90 266.33L59.40 264.43L59.90 262.57L60.40 260.76L60.90 258.99L61.40 257.29L61.90 255.55L62.40 253.75L62.90 251.94L63.40 250.14L63.90 248.40L64.40 246.74L64.90 245.20L65.40 243.83L65.90 242.64L66.40 241.67L66.90 240.77L67.40 239.93L67.90 239.14L68.40 238.40L68.90 237.72L69.40 237.10L69.90 236.55L70.40 236.06L70.90 235.65L71.40 235.30L71.90 234.97L72.40 234.64L72.90 234.35L73.40 234.08L73.90 233.86L74.40 233.71L74.90 233.62L75.40 233.61L75.90 233.66L76.40 233.78L76.90 233.96L77.40 234.19L77.90 234.48L78.40 234.82L78.90 235.21L79.40 235.64L79.90 236.11L80.40 236.63L80.90 237.18L81.40 237.77L81.90 238.39L82.40 239.03L82.90 239.71L83.40 240.41L83.90 241.13L84.40 241.86L84.90 242.62L85.40 243.39L85.90 244.16L86.40 244.95L86.90 245.74L87.40 246.53L87.90 247.43L88.40 248.51L88.90 249.74L89.40 251.06L89.90 252.44L90.40 253.82L90.90 255.18L91.40 256.45L91.90 257.62L92.40 258.75L92.90 259.85L93.40 260.94L93.90 262.01L94.40 263.06L94.90 264.11L95.40 265.14L95.90 266.17L96.40 267.19L96.90 268.21L97.40 269.24L97.90 270.27L98.40 271.29L98.90 272.30L99.40 273.29L99.90 274.25L100.40 275.18L100.90 276.07L101.40 276.91L101.90 277.73L102.40 278.52L102.90 279.29L103.40 280.04L103.90 280.77L104.40 281.49L104.90 282.21L105.40 282.91L105.90 283.62L106.40 284.32L106.90 285.00L107.40 285.67L107.90 286.33L108.40 286.99L108.90 287.65L109.40 288.32L109.90 288.99L110.40 289.67L110.90 290.35L111.40 291.02L111.90 291.69L112.40 292.34L112.90 292.99L113.40 293.62L113.90 294.24L114.40 294.83L114.90 295.41L115.40 295.98L115.90 296.54L116.40 297.09L116.90 297.64L117.40 298.18L117.90 298.71L118.40 299.22L118.90 299.73L119.40 300.23L119.90 300.72L120.40 301.19L120.90 301.66L121.40 302.11L121.90 302.55L122.40 302.98L122.90 303.40L123.40 303.81L123.90 304.22L124.40 304.61L124.90 305.00L125.40 305.39L125.90 305.76L126.40 306.13L126.90 306.50L127.40 306.86L127.90 307.21L128.40 307.56L128.90 307.91L129.40 308.25L129.90 308.59L130.40 308.93L130.90 309.26L131.40 309.59L131.90 309.92L132.40 310.24L132.90 310.56L133.40 310.88L133.90 311.19L134.40 311.49L134.90 311.80L135.40 312.10L135.90 312.39L136.40 312.68L136.90 312.97L137.40 313.25L137.90 313.53L138.40 313.80L138.90 314.07L139.40 314.34L139.90 314.60L140.40 314.86L140.90 315.11L141.40 315.37L141.90 315.61L142.40 315.86L142.90 316.10L143.40 316.34L143.90 316.57L144.40 316.80L144.90 317.03L145.40 317.26L145.90 317.48L146.40 317.70L146.90 317.92L147.40 318.14L147.90 318.35L148.40 318.57L148.90 318.78L149.40 319.00L149.90 319.21L150.40 319.42L150.90 319.63L151.40 319.84L151.90 320.05L152.40 320.25L152.90 320.45L153.40 320.64L153.90 320.83L154.40 321.02L154.90 321.20L155.40 321.38L155.90 321.55L156.40 321.72L156.90 321.88L157.40 322.03L157.90 322.18L158.40 322.33L158.90 322.48L159.40 322.64L159.90 322.79L160.40 322.94L160.90 323.09L161.40 323.23L161.90 323.37L162.40 323.50L162.90 323.63L163.40 323.75L163.90 323.85L164.40 323.95L164.90 324.03L165.40 324.11L165.90 324.16L166.40 324.21" fill="none" stroke="#30a070" stroke-width="0.85"/>
<path d="M16.90 324.55L17.40 324.53L17.90 324.52L18.40 324.50L18.90 324.48L19.40 324.46L19.90 324.45L20.40 324.43L20.90 324.41L21.40 324.39L21.90 324.37L22.40 324.34L22.90 324.32L23.40 324.29L23.90 324.26L24.40 324.23L24.90 324.20L25.40 324.16L25.90 324.12L26.40 324.07L26.90 324.01L27.40 323.94L27.90 323.87L28.40 323.80L28.90 323.71L29.40 323.63L29.90 323.53L30.40 323.44L30.90 323.33L31.40 323.21L31.90 323.09L32.40 322.95L32.90 322.80L33.40 322.64L33.90 322.47L34.40 322.29L34.90 322.09L35.40 321.89L35.90 321.67L36.40 321.44L36.90 321.20L37.40 320.92L37.90 320.60L38.40 320.25L38.90 319.87L39.40 319.47L39.90 319.03L40.40 318.58L40.90 318.10L41.40 317.60L41.90 317.09L42.40 316.55L42.90 315.97L43.40 315.36L43.90 314.69L44.40 313.98L44.90 313.22L45.40 312.41L45.90 311.55L46.40 310.62L46.90 309.58L47.40 308.41L47.90 307.12L48.40 305.72L48.90 304.22L49.40 302.63L49.90 300.92L50.40 299.00L50.90 296.90L51.40 294.65L51.90 292.26L52.40 289.61L52.90 286.55L53.40 283.36L53.90 280.32L54.40 277.72L54.90 275.47L55.40 273.42L55.90 271.48L56.40 269.58L56.90 267.65L57.40 265.62L57.90 263.53L58.40 261.42L58.90 259.32L59.40 257.23L59.90 255.20L60.40 253.21L60.90 251.29L61.40 249.41L61.90 247.46L62.40 245.46L62.90 243.46L63.40 241.49L63.90 239.60L64.40 237.82L64.90 236.19L65.40 234.75L65.90 233.53L66.40 232.51L66.90 231.54L67.40 230.63L67.90 229.78L68.40 228.99L68.90 228.27L69.40 227.62L69.90 227.03L70.40 226.53L70.90 226.10L71.40 225.73L71.90 225.37L72.40 225.02L72.90 224.70L73.40 224.43L73.90 224.21L74.40 224.07L74.90 224.00L75.40 224.02L75.90 224.11L76.40 224.27L76.90 224.49L77.40 224.78L77.90 225.12L78.40 225.51L78.90 225.96L79.40 226.46L79.90 227.00L80.40 227.58L80.90 228.21L81.40 228.87L81.90 229.57L82.40 230.30L82.90 231.05L83.40 231.83L83.90 232.64L84.40 233.46L84.90 234.30L85.40 235.15L85.90 236.01L86.40 236.88L86.90 237.76L87.40 238.65L87.90 239.73L88.40 241.00L88.90 242.40L89.40 243.89L89.90 245.42L90.40 246.94L90.90 248.41L91.40 249.78L91.90 251.04L92.40 252.27L92.90 253.48L93.40 254.68L93.90 255.85L94.40 257.01L94.90 258.16L95.40 259.30L95.90 260.43L96.40 261.56L96.90 262.69L97.40 263.83L97.90 264.96L98.40 266.08L98.90 267.19L99.40 268.27L99.90 269.32L100.40 270.33L100.90 271.29L101.40 272.21L101.90 273.10L102.40 273.97L102.90 274.81L103.40 275.63L103.90 276.43L104.40 277.22L104.90 278.01L105.40 278.79L105.90 279.57L106.40 280.33L106.90 281.08L107.40 281.81L107.90 282.54L108.40 283.27L108.90 284.01L109.40 284.75L109.90 285.49L110.40 286.24L110.90 286.98L111.40 287.73L111.90 288.46L112.40 289.18L112.90 289.89L113.40 290.58L113.90 291.25L114.40 291.90L114.90 292.53L115.40 293.16L115.90 293.77L116.40 294.38L116.90 294.98L117.40 295.57L117.90 296.15L118.40 296.72L118.90 297.28L119.40 297.82L119.90 298.36L120.40 298.88L120.90 299.38L121.40 299.88L121.90 300.36L122.40 300.83L122.90 301.29L123.40 301.74L123.90 302.19L124.40 302.62L124.90 303.05L125.40 303.47L125.90 303.88L126.40 304.29L126.90 304.69L127.40 305.08L127.90 305.47L128.40 305.86L128.90 306.24L129.40 306.62L129.90 306.99L130.40 307.36L130.90 307.73L131.40 308.09L131.90 308.45L132.40 308.81L132.90 309.16L133.40 309.50L133.90 309.85L134.40 310.18L134.90 310.52L135.40 310.85L135.90 311.17L136.40 311.49L136.90 311.80L137.40 312.11L137.90 312.42L138.40 312.72L138.90 313.02L139.40 313.31L139.90 313.60L140.40 313.88L140.90 314.16L141.40 314.44L141.90 314.71L142.40 314.98L142.90 315.24L143.40 315.50L143.90 315.76L144.40 316.02L144.90 316.27L145.40 316.52L145.90 316.76L146.40 317.00L146.90 317.24L147.40 317.48L147.90 317.72L148.40 317.96L148.90 318.20L149.40 318.43L149.90 318.67L150.40 318.90L150.90 319.13L151.40 319.36L151.90 319.58L152.40 319.81L152.90 320.02L153.40 320.24L153.90 320.45L154.40 320.65L154.90 320.85L155.40 321.04L155.90 321.23L156.40 321.41L156.90 321.59L157.40 321.75L157.90 321.92L158.40 322.09L158.90 322.26L159.40 322.43L159.90 322.59L160.40 322.76L160.90 322.92L161.40 323.08L161.90 323.23L162.40 323.37L162.90 323.51L163.40 323.63L163.90 323.75L164.40 323.85L164.90 323.94L165.40 324.01L165.90 324.07L166.40 324.11" fill="none" stroke="#404050" stroke-width="0.85"/>
<path d="M16.90 324.49L17.40 324.48L17.90 324.46L18.40 324.44L18.90 324.42L19.40 324.41L19.90 324.39L20.40 324.37L20.90 324.35L21.40 324.32L21.90 324.30L22.40 324.27L22.90 324.25L23.40 324.22L23.90 324.19L24.40 324.16L24.90 324.12L25.40 324.08L25.90 324.04L26.40 323.98L26.90 323.92L27.40 323.85L27.90 323.77L28.40 323.69L28.90 323.60L29.40 323.51L29.90 323.41L30.40 323.30L30.90 323.19L31.40 323.07L31.90 322.93L32.40 322.78L32.90 322.62L33.40 322.45L33.90 322.27L34.40 322.07L34.90 321.86L35.40 321.65L35.90 321.41L36.40 321.17L36.90 320.91L37.40 320.61L37.90 320.27L38.40 319.89L38.90 319.49L39.40 319.05L39.90 318.59L40.40 318.10L40.90 317.59L41.40 317.06L41.90 316.51L42.40 315.93L42.90 315.31L43.40 314.65L43.90 313.94L44.40 313.18L44.90 312.37L45.40 311.50L45.90 310.57L46.40 309.58L46.90 308.47L47.40 307.21L47.90 305.83L48.40 304.33L48.90 302.72L49.40 301.02L49.90 299.19L50.40 297.13L50.90 294.88L51.40 292.47L51.90 289.91L52.40 287.08L52.90 283.80L53.40 280.38L53.90 277.13L54.40 274.34L54.90 271.93L55.40 269.73L55.90 267.66L56.40 265.62L56.90 263.55L57.40 261.38L57.90 259.14L58.40 256.88L58.90 254.63L59.40 252.40L59.90 250.21L60.40 248.09L60.90 246.03L61.40 244.01L61.90 241.92L62.40 239.79L62.90 237.64L63.40 235.54L63.90 233.51L64.40 231.60L64.90 229.85L65.40 228.31L65.90 227.01L66.40 225.91L66.90 224.88L67.40 223.91L67.90 222.99L68.40 222.15L68.90 221.37L69.40 220.67L69.90 220.05L70.40 219.51L70.90 219.05L71.40 218.65L71.90 218.26L72.40 217.89L72.90 217.55L73.40 217.26L73.90 217.03L74.40 216.87L74.90 216.80L75.40 216.82L75.90 216.92L76.40 217.09L76.90 217.33L77.40 217.63L77.90 218.00L78.40 218.42L78.90 218.90L79.40 219.43L79.90 220.01L80.40 220.64L80.90 221.31L81.40 222.02L81.90 222.77L82.40 223.55L82.90 224.36L83.40 225.19L83.90 226.05L84.40 226.93L84.90 227.83L85.40 228.74L85.90 229.67L86.40 230.60L86.90 231.54L87.40 232.49L87.90 233.65L88.40 235.01L88.90 236.51L89.40 238.10L89.90 239.74L90.40 241.38L90.90 242.95L91.40 244.41L91.90 245.76L92.40 247.08L92.90 248.38L93.40 249.66L93.90 250.91L94.40 252.16L94.90 253.39L95.40 254.61L95.90 255.82L96.40 257.03L96.90 258.24L97.40 259.46L97.90 260.67L98.40 261.88L98.90 263.06L99.40 264.22L99.90 265.35L100.40 266.43L100.90 267.45L101.40 268.44L101.90 269.39L102.40 270.32L102.90 271.22L103.40 272.09L103.90 272.96L104.40 273.81L104.90 274.65L105.40 275.48L105.90 276.32L106.40 277.13L106.90 277.94L107.40 278.72L107.90 279.50L108.40 280.28L108.90 281.07L109.40 281.86L109.90 282.66L110.40 283.46L110.90 284.26L111.40 285.05L111.90 285.84L112.40 286.61L112.90 287.37L113.40 288.11L113.90 288.83L114.40 289.52L114.90 290.20L115.40 290.87L115.90 291.53L116.40 292.19L116.90 292.83L117.40 293.46L117.90 294.08L118.40 294.69L118.90 295.29L119.40 295.87L119.90 296.44L120.40 297.00L120.90 297.54L121.40 298.07L121.90 298.59L122.40 299.09L122.90 299.58L123.40 300.07L123.90 300.54L124.40 301.01L124.90 301.47L125.40 301.92L125.90 302.36L126.40 302.79L126.90 303.22L127.40 303.65L127.90 304.06L128.40 304.48L128.90 304.89L129.40 305.29L129.90 305.69L130.40 306.09L130.90 306.48L131.40 306.87L131.90 307.25L132.40 307.63L132.90 308.01L133.40 308.38L133.90 308.75L134.40 309.11L134.90 309.47L135.40 309.82L135.90 310.17L136.40 310.51L136.90 310.85L137.40 311.18L137.90 311.51L138.40 311.83L138.90 312.14L139.40 312.46L139.90 312.76L140.40 313.07L140.90 313.37L141.40 313.66L141.90 313.96L142.40 314.24L142.90 314.53L143.40 314.81L143.90 315.08L144.40 315.36L144.90 315.63L145.40 315.89L145.90 316.15L146.40 316.41L146.90 316.67L147.40 316.93L147.90 317.18L148.40 317.44L148.90 317.69L149.40 317.95L149.90 318.20L150.40 318.45L150.90 318.69L151.40 318.94L151.90 319.18L152.40 319.42L152.90 319.65L153.40 319.88L153.90 320.10L154.40 320.32L154.90 320.53L155.40 320.74L155.90 320.94L156.40 321.14L156.90 321.32L157.40 321.50L157.90 321.68L158.40 321.86L158.90 322.04L159.40 322.22L159.90 322.40L160.40 322.58L160.90 322.75L161.40 322.92L161.90 323.08L162.40 323.24L162.90 323.38L163.40 323.51L163.90 323.64L164.40 323.74L164.90 323.84L165.40 323.92L165.90 323.98L166.40 324.02" fill="none" stroke="#ff8060" stroke-width="0.85"/>
<path d="M16.90 324.45L17.40 324.43L17.90 324.41L18.40 324.39L18.90 324.37L19.40 324.35L19.90 324.33L20.40 324.31L20.90 324.29L21.40 324.26L21.90 324.24L22.40 324.21L22.90 324.18L23.40 324.15L23.90 324.12L24.40 324.09L24.90 324.05L25.40 324.01L25.90 323.96L26.40 323.90L26.90 323.84L27.40 323.76L27.90 323.68L28.40 323.59L28.90 323.50L29.40 323.40L29.90 323.29L30.40 323.19L30.90 323.06L31.40 322.93L31.90 322.79L32.40 322.63L32.90 322.46L33.40 322.28L33.90 322.09L34.40 321.88L34.90 321.66L35.40 321.43L35.90 321.18L36.40 320.92L36.90 320.64L37.40 320.33L37.90 319.97L38.40 319.57L38.90 319.14L39.40 318.68L39.90 318.18L40.40 317.67L40.90 317.12L41.40 316.56L41.90 315.98L42.40 315.37L42.90 314.71L43.40 314.01L43.90 313.26L44.40 312.45L44.90 311.59L45.40 310.67L45.90 309.69L46.40 308.64L46.90 307.46L47.40 306.13L47.90 304.66L48.40 303.07L48.90 301.37L49.40 299.57L49.90 297.62L50.40 295.44L50.90 293.06L51.40 290.50L51.90 287.79L52.40 284.79L52.90 281.31L53.40 277.69L53.90 274.24L54.40 271.28L54.90 268.73L55.40 266.40L55.90 264.20L56.40 262.05L56.90 259.85L57.40 257.55L57.90 255.18L58.40 252.78L58.90 250.39L59.40 248.03L59.90 245.71L60.40 243.47L60.90 241.28L61.40 239.14L61.90 236.93L62.40 234.66L62.90 232.39L63.40 230.16L63.90 228.01L64.40 225.99L64.90 224.14L65.40 222.50L65.90 221.12L66.40 219.96L66.90 218.86L67.40 217.83L67.90 216.87L68.40 215.97L68.90 215.15L69.40 214.41L69.90 213.74L70.40 213.17L70.90 212.69L71.40 212.26L71.90 211.85L72.40 211.46L72.90 211.10L73.40 210.79L73.90 210.54L74.40 210.38L74.90 210.30L75.40 210.33L75.90 210.43L76.40 210.61L76.90 210.86L77.40 211.18L77.90 211.57L78.40 212.02L78.90 212.53L79.40 213.09L79.90 213.71L80.40 214.37L80.90 215.08L81.40 215.83L81.90 216.62L82.40 217.45L82.90 218.31L83.40 219.19L83.90 220.11L84.40 221.04L84.90 221.99L85.40 222.96L85.90 223.94L86.40 224.93L86.90 225.92L87.40 226.93L87.90 228.16L88.40 229.60L88.90 231.19L89.40 232.88L89.90 234.62L90.40 236.35L90.90 238.01L91.40 239.56L91.90 241.00L92.40 242.40L92.90 243.77L93.40 245.12L93.90 246.46L94.40 247.78L94.90 249.08L95.40 250.37L95.90 251.66L96.40 252.94L96.90 254.22L97.40 255.51L97.90 256.80L98.40 258.08L98.90 259.33L99.40 260.56L99.90 261.75L100.40 262.90L100.90 263.99L101.40 265.03L101.90 266.04L102.40 267.02L102.90 267.98L103.40 268.91L103.90 269.82L104.40 270.72L104.90 271.61L105.40 272.50L105.90 273.38L106.40 274.25L106.90 275.10L107.40 275.93L107.90 276.76L108.40 277.59L108.90 278.42L109.40 279.26L109.90 280.11L110.40 280.96L110.90 281.80L111.40 282.64L111.90 283.48L112.40 284.30L112.90 285.10L113.40 285.88L113.90 286.65L114.40 287.38L114.90 288.10L115.40 288.81L115.90 289.51L116.40 290.20L116.90 290.88L117.40 291.55L117.90 292.21L118.40 292.86L118.90 293.49L119.40 294.11L119.90 294.71L120.40 295.30L120.90 295.88L121.40 296.44L121.90 296.99L122.40 297.52L122.90 298.04L123.40 298.56L123.90 299.06L124.40 299.55L124.90 300.04L125.40 300.52L125.90 300.98L126.40 301.45L126.90 301.90L127.40 302.35L127.90 302.79L128.40 303.23L128.90 303.66L129.40 304.09L129.90 304.52L130.40 304.94L130.90 305.35L131.40 305.77L131.90 306.17L132.40 306.58L132.90 306.97L133.40 307.37L133.90 307.76L134.40 308.14L134.90 308.52L135.40 308.89L135.90 309.26L136.40 309.62L136.90 309.98L137.40 310.33L137.90 310.68L138.40 311.02L138.90 311.36L139.40 311.69L139.90 312.01L140.40 312.34L140.90 312.65L141.40 312.97L141.90 313.28L142.40 313.58L142.90 313.88L143.40 314.18L143.90 314.47L144.40 314.76L144.90 315.05L145.40 315.33L145.90 315.61L146.40 315.88L146.90 316.15L147.40 316.43L147.90 316.70L148.40 316.97L148.90 317.24L149.40 317.51L149.90 317.77L150.40 318.04L150.90 318.30L151.40 318.56L151.90 318.81L152.40 319.06L152.90 319.31L153.40 319.55L153.90 319.79L154.40 320.02L154.90 320.25L155.40 320.47L155.90 320.68L156.40 320.89L156.90 321.08L157.40 321.28L157.90 321.46L158.40 321.65L158.90 321.85L159.40 322.04L159.90 322.23L160.40 322.42L160.90 322.60L161.40 322.78L161.90 322.95L162.40 323.11L162.90 323.27L163.40 323.41L163.90 323.54L164.40 323.65L164.90 323.75L165.40 323.83L165.90 323.90L166.40 323.95" fill="none" stroke="#8060ff" stroke-width="0.85"/>
<path d="M16.90 324.42L17.40 324.40L17.90 324.38L18.40 324.36L18.90 324.34L19.40 324.32L19.90 324.30L20.40 324.28L20.90 324.26L21.40 324.23L21.90 324.21L22.40 324.18L22.90 324.15L23.40 324.12L23.90 324.09L24.40 324.05L24.90 324.01L25.40 323.97L25.90 323.92L26.40 323.86L26.90 323.79L27.40 323.72L27.90 323.63L28.40 323.54L28.90 323.45L29.40 323.34L29.90 323.24L30.40 323.12L30.90 323.00L31.40 322.86L31.90 322.71L32.40 322.55L32.90 322.38L33.40 322.19L33.90 321.99L34.40 321.78L34.90 321.55L35.40 321.31L35.90 321.06L36.40 320.79L36.90 320.51L37.40 320.18L37.90 319.81L38.40 319.40L38.90 318.96L39.40 318.48L39.90 317.97L40.40 317.44L40.90 316.88L41.40 316.30L41.90 315.71L42.40 315.08L42.90 314.40L43.40 313.68L43.90 312.90L44.40 312.07L44.90 311.19L45.40 310.24L45.90 309.23L46.40 308.15L46.90 306.93L47.40 305.56L47.90 304.05L48.40 302.42L48.90 300.66L49.40 298.81L49.90 296.80L50.40 294.56L50.90 292.11L51.40 289.47L51.90 286.68L52.40 283.59L52.90 280.01L53.40 276.28L53.90 272.73L54.40 269.68L54.90 267.06L55.40 264.66L55.90 262.40L56.40 260.18L56.90 257.92L57.40 255.55L57.90 253.10L58.40 250.64L58.90 248.18L59.40 245.74L59.90 243.36L60.40 241.05L60.90 238.80L61.40 236.60L61.90 234.31L62.40 231.98L62.90 229.64L63.40 227.35L63.90 225.13L64.40 223.05L64.90 221.14L65.40 219.46L65.90 218.04L66.40 216.85L66.90 215.72L67.40 214.65L67.90 213.66L68.40 212.74L68.90 211.89L69.40 211.13L69.90 210.45L70.40 209.86L70.90 209.36L71.40 208.92L71.90 208.50L72.40 208.09L72.90 207.72L73.40 207.40L73.90 207.15L74.40 206.98L74.90 206.90L75.40 206.93L75.90 207.03L76.40 207.22L76.90 207.48L77.40 207.81L77.90 208.21L78.40 208.67L78.90 209.19L79.40 209.77L79.90 210.41L80.40 211.09L80.90 211.82L81.40 212.60L81.90 213.41L82.40 214.26L82.90 215.14L83.40 216.06L83.90 217.00L84.40 217.96L84.90 218.94L85.40 219.93L85.90 220.94L86.40 221.96L86.90 222.98L87.40 224.03L87.90 225.29L88.40 226.77L88.90 228.41L89.40 230.15L89.90 231.94L90.40 233.72L90.90 235.43L91.40 237.03L91.90 238.50L92.40 239.94L92.90 241.36L93.40 242.75L93.90 244.13L94.40 245.48L94.90 246.83L95.40 248.16L95.90 249.48L96.40 250.80L96.90 252.12L97.40 253.45L97.90 254.77L98.40 256.09L98.90 257.38L99.40 258.65L99.90 259.88L100.40 261.05L100.90 262.18L101.40 263.25L101.90 264.29L102.40 265.30L102.90 266.28L103.40 267.24L103.90 268.18L104.40 269.11L104.90 270.02L105.40 270.94L105.90 271.85L106.40 272.74L106.90 273.61L107.40 274.47L107.90 275.33L108.40 276.18L108.90 277.03L109.40 277.90L109.90 278.77L110.40 279.64L110.90 280.52L111.40 281.38L111.90 282.24L112.40 283.08L112.90 283.91L113.40 284.72L113.90 285.50L114.40 286.26L114.90 287.00L115.40 287.73L115.90 288.45L116.40 289.16L116.90 289.87L117.40 290.55L117.90 291.23L118.40 291.90L118.90 292.55L119.40 293.18L119.90 293.81L120.40 294.42L120.90 295.01L121.40 295.59L121.90 296.15L122.40 296.70L122.90 297.24L123.40 297.77L123.90 298.28L124.40 298.79L124.90 299.29L125.40 299.78L125.90 300.27L126.40 300.74L126.90 301.21L127.40 301.67L127.90 302.13L128.40 302.58L128.90 303.02L129.40 303.46L129.90 303.90L130.40 304.33L130.90 304.76L131.40 305.19L131.90 305.61L132.40 306.02L132.90 306.43L133.40 306.84L133.90 307.24L134.40 307.63L134.90 308.02L135.40 308.41L135.90 308.78L136.40 309.16L136.90 309.53L137.40 309.89L137.90 310.25L138.40 310.60L138.90 310.94L139.40 311.28L139.90 311.62L140.40 311.95L140.90 312.28L141.40 312.60L141.90 312.92L142.40 313.23L142.90 313.54L143.40 313.85L143.90 314.15L144.40 314.45L144.90 314.74L145.40 315.03L145.90 315.32L146.40 315.60L146.90 315.88L147.40 316.16L147.90 316.44L148.40 316.72L148.90 317.00L149.40 317.27L149.90 317.55L150.40 317.82L150.90 318.09L151.40 318.36L151.90 318.62L152.40 318.88L152.90 319.13L153.40 319.38L153.90 319.63L154.40 319.87L154.90 320.10L155.40 320.33L155.90 320.54L156.40 320.76L156.90 320.96L157.40 321.16L157.90 321.35L158.40 321.55L158.90 321.74L159.40 321.94L159.90 322.14L160.40 322.33L160.90 322.52L161.40 322.70L161.90 322.88L162.40 323.05L162.90 323.20L163.40 323.35L163.90 323.48L164.40 323.60L164.90 323.71L165.40 323.79L165.90 323.86L166.40 323.91" fill="none" stroke="#ff3070" stroke-width="0.85"/>
<path d="M16.90 324.39L17.40 324.37L17.90 324.35L18.40 324.33L18.90 324.31L19.40 324.29L19.90 324.27L20.40 324.24L20.90 324.22L21.40 324.19L21.90 324.17L22.40 324.14L22.90 324.11L23.40 324.08L23.90 324.04L24.40 324.00L24.90 323.96L25.40 323.92L25.90 323.86L26.40 323.80L26.90 323.73L27.40 323.65L27.90 323.56L28.40 323.47L28.90 323.36L29.40 323.26L29.90 323.14L30.40 323.03L30.90 322.90L31.40 322.75L31.90 322.60L32.40 322.43L32.90 322.24L33.40 322.05L33.90 321.84L34.40 321.62L34.90 321.38L35.40 321.13L35.90 320.87L36.40 320.59L36.90 320.29L37.40 319.94L37.90 319.55L38.40 319.12L38.90 318.65L39.40 318.15L39.90 317.62L40.40 317.07L40.90 316.49L41.40 315.89L41.90 315.26L42.40 314.60L42.90 313.90L43.40 313.14L43.90 312.33L44.40 311.46L44.90 310.53L45.40 309.54L45.90 308.48L46.40 307.34L46.90 306.06L47.40 304.61L47.90 303.03L48.40 301.31L48.90 299.48L49.40 297.54L49.90 295.42L50.40 293.06L50.90 290.48L51.40 287.73L51.90 284.82L52.40 281.51L52.90 277.75L53.40 273.91L53.90 270.32L54.40 267.29L54.90 264.63L55.40 262.19L55.90 259.86L56.40 257.57L56.90 255.22L57.40 252.75L57.90 250.22L58.40 247.67L58.90 245.13L59.40 242.63L59.90 240.18L60.40 237.80L60.90 235.49L61.40 233.21L61.90 230.84L62.40 228.42L62.90 226.01L63.40 223.65L63.90 221.39L64.40 219.27L64.90 217.35L65.40 215.66L65.90 214.25L66.40 213.04L66.90 211.88L67.40 210.80L67.90 209.79L68.40 208.85L68.90 207.99L69.40 207.22L69.90 206.53L70.40 205.94L70.90 205.45L71.40 205.00L71.90 204.56L72.40 204.15L72.90 203.78L73.40 203.46L73.90 203.21L74.40 203.06L74.90 203.00L75.40 203.04L75.90 203.17L76.40 203.38L76.90 203.66L77.40 204.01L77.90 204.44L78.40 204.93L78.90 205.48L79.40 206.09L79.90 206.76L80.40 207.48L80.90 208.24L81.40 209.05L81.90 209.90L82.40 210.78L82.90 211.70L83.40 212.65L83.90 213.63L84.40 214.62L84.90 215.64L85.40 216.67L85.90 217.71L86.40 218.77L86.90 219.82L87.40 220.93L87.90 222.28L88.40 223.85L88.90 225.57L89.40 227.38L89.90 229.23L90.40 231.06L90.90 232.82L91.40 234.43L91.90 235.94L92.40 237.43L92.90 238.89L93.40 240.32L93.90 241.74L94.40 243.13L94.90 244.52L95.40 245.89L95.90 247.26L96.40 248.62L96.90 249.98L97.40 251.36L97.90 252.72L98.40 254.08L98.90 255.41L99.40 256.71L99.90 257.97L100.40 259.17L100.90 260.32L101.40 261.43L101.90 262.49L102.40 263.53L102.90 264.54L103.40 265.52L103.90 266.49L104.40 267.45L104.90 268.39L105.40 269.33L105.90 270.27L106.40 271.19L106.90 272.09L107.40 272.98L107.90 273.86L108.40 274.74L108.90 275.62L109.40 276.52L109.90 277.42L110.40 278.32L110.90 279.22L111.40 280.11L111.90 281.00L112.40 281.87L112.90 282.72L113.40 283.55L113.90 284.35L114.40 285.13L114.90 285.89L115.40 286.64L115.90 287.39L116.40 288.12L116.90 288.84L117.40 289.55L117.90 290.25L118.40 290.93L118.90 291.60L119.40 292.26L119.90 292.90L120.40 293.52L120.90 294.13L121.40 294.73L121.90 295.30L122.40 295.87L122.90 296.42L123.40 296.97L123.90 297.50L124.40 298.02L124.90 298.54L125.40 299.04L125.90 299.54L126.40 300.03L126.90 300.51L127.40 300.99L127.90 301.46L128.40 301.92L128.90 302.38L129.40 302.84L129.90 303.29L130.40 303.73L130.90 304.17L131.40 304.61L131.90 305.04L132.40 305.47L132.90 305.89L133.40 306.31L133.90 306.72L134.40 307.13L134.90 307.53L135.40 307.93L135.90 308.32L136.40 308.70L136.90 309.08L137.40 309.46L137.90 309.82L138.40 310.19L138.90 310.54L139.40 310.89L139.90 311.24L140.40 311.58L140.90 311.92L141.40 312.25L141.90 312.58L142.40 312.90L142.90 313.22L143.40 313.53L143.90 313.85L144.40 314.15L144.90 314.46L145.40 314.75L145.90 315.05L146.40 315.34L146.90 315.63L147.40 315.92L147.90 316.21L148.40 316.50L148.90 316.78L149.40 317.07L149.90 317.35L150.40 317.63L150.90 317.91L151.40 318.18L151.90 318.45L152.40 318.72L152.90 318.98L153.40 319.24L153.90 319.49L154.40 319.74L154.90 319.98L155.40 320.21L155.90 320.43L156.40 320.65L156.90 320.86L157.40 321.06L157.90 321.26L158.40 321.46L158.90 321.67L159.40 321.87L159.90 322.07L160.40 322.27L160.90 322.47L161.40 322.66L161.90 322.84L162.40 323.01L162.90 323.17L163.40 323.32L163.90 323.45L164.40 323.57L164.90 323.67L165.40 323.76L165.90 323.82L166.40 323.87" fill="none" stroke="#909090" stroke-width="0.85"/>
<path d="M16.90 324.38L17.40 324.36L17.90 324.34L18.40 324.32L18.90 324.30L19.40 324.28L19.90 324.26L20.40 324.24L20.90 324.21L21.40 324.19L21.90 324.16L22.40 324.13L22.90 324.10L23.40 324.07L23.90 324.03L24.40 323.99L24.90 323.95L25.40 323.91L25.90 323.85L26.40 323.79L26.90 323.72L27.40 323.64L27.90 323.55L28.40 323.45L28.90 323.35L29.40 323.24L29.90 323.13L30.40 323.01L30.90 322.88L31.40 322.74L31.90 322.58L32.40 322.41L32.90 322.22L33.40 322.03L33.90 321.82L34.40 321.59L34.90 321.35L35.40 321.10L35.90 320.84L36.40 320.56L36.90 320.25L37.40 319.90L37.90 319.51L38.40 319.08L38.90 318.61L39.40 318.11L39.90 317.57L40.40 317.01L40.90 316.43L41.40 315.82L41.90 315.20L42.40 314.53L42.90 313.82L43.40 313.06L43.90 312.24L44.40 311.37L44.90 310.43L45.40 309.44L45.90 308.37L46.40 307.23L46.90 305.93L47.40 304.48L47.90 302.88L48.40 301.15L48.90 299.31L49.40 297.36L49.90 295.22L50.40 292.85L50.90 290.26L51.40 287.48L51.90 284.55L52.40 281.22L52.90 277.44L53.40 273.57L53.90 269.96L54.40 266.91L54.90 264.23L55.40 261.77L55.90 259.44L56.40 257.13L56.90 254.76L57.40 252.27L57.90 249.73L58.40 247.16L58.90 244.61L59.40 242.08L59.90 239.62L60.40 237.23L60.90 234.91L61.40 232.61L61.90 230.22L62.40 227.79L62.90 225.36L63.40 222.99L63.90 220.71L64.40 218.58L64.90 216.64L65.40 214.94L65.90 213.53L66.40 212.30L66.90 211.14L67.40 210.05L67.90 209.03L68.40 208.09L68.90 207.22L69.40 206.45L69.90 205.76L70.40 205.16L70.90 204.66L71.40 204.21L71.90 203.77L72.40 203.36L72.90 202.98L73.40 202.66L73.90 202.42L74.40 202.26L74.90 202.20L75.40 202.24L75.90 202.37L76.40 202.58L76.90 202.86L77.40 203.22L77.90 203.65L78.40 204.14L78.90 204.70L79.40 205.31L79.90 205.98L80.40 206.70L80.90 207.47L81.40 208.29L81.90 209.14L82.40 210.03L82.90 210.96L83.40 211.91L83.90 212.90L84.40 213.90L84.90 214.92L85.40 215.96L85.90 217.01L86.40 218.07L86.90 219.13L87.40 220.25L87.90 221.61L88.40 223.19L88.90 224.92L89.40 226.74L89.90 228.60L90.40 230.45L90.90 232.21L91.40 233.84L91.90 235.36L92.40 236.85L92.90 238.32L93.40 239.76L93.90 241.19L94.40 242.60L94.90 243.99L95.40 245.37L95.90 246.75L96.40 248.12L96.90 249.49L97.40 250.87L97.90 252.25L98.40 253.61L98.90 254.95L99.40 256.26L99.90 257.53L100.40 258.74L100.90 259.90L101.40 261.01L101.90 262.08L102.40 263.12L102.90 264.14L103.40 265.13L103.90 266.11L104.40 267.07L104.90 268.02L105.40 268.97L105.90 269.91L106.40 270.84L106.90 271.74L107.40 272.63L107.90 273.52L108.40 274.41L108.90 275.30L109.40 276.20L109.90 277.11L110.40 278.01L110.90 278.92L111.40 279.82L111.90 280.71L112.40 281.58L112.90 282.44L113.40 283.27L113.90 284.08L114.40 284.86L114.90 285.63L115.40 286.39L115.90 287.14L116.40 287.88L116.90 288.60L117.40 289.32L117.90 290.02L118.40 290.71L118.90 291.38L119.40 292.04L119.90 292.69L120.40 293.32L120.90 293.93L121.40 294.53L121.90 295.11L122.40 295.68L122.90 296.23L123.40 296.78L123.90 297.32L124.40 297.84L124.90 298.36L125.40 298.87L125.90 299.37L126.40 299.86L126.90 300.35L127.40 300.83L127.90 301.30L128.40 301.77L128.90 302.23L129.40 302.69L129.90 303.14L130.40 303.59L130.90 304.04L131.40 304.48L131.90 304.91L132.40 305.34L132.90 305.77L133.40 306.19L133.90 306.60L134.40 307.01L134.90 307.42L135.40 307.81L135.90 308.21L136.40 308.59L136.90 308.98L137.40 309.35L137.90 309.72L138.40 310.09L138.90 310.45L139.40 310.80L139.90 311.15L140.40 311.49L140.90 311.83L141.40 312.16L141.90 312.49L142.40 312.82L142.90 313.14L143.40 313.46L143.90 313.77L144.40 314.08L144.90 314.38L145.40 314.69L145.90 314.98L146.40 315.28L146.90 315.57L147.40 315.86L147.90 316.15L148.40 316.44L148.90 316.73L149.40 317.01L149.90 317.30L150.40 317.58L150.90 317.86L151.40 318.14L151.90 318.41L152.40 318.68L152.90 318.94L153.40 319.20L153.90 319.45L154.40 319.70L154.90 319.94L155.40 320.17L155.90 320.40L156.40 320.62L156.90 320.83L157.40 321.03L157.90 321.23L158.40 321.44L158.90 321.64L159.40 321.85L159.90 322.05L160.40 322.25L160.90 322.45L161.40 322.64L161.90 322.82L162.40 322.99L162.90 323.15L163.40 323.30L163.90 323.44L164.40 323.56L164.90 323.66L165.40 323.75L165.90 323.81L166.40 323.86" fill="none" stroke="#a8e878" stroke-width="0.85"/>
<line x1="38.31" y1="325.7" x2="38.31" y2="328.5" stroke="#252525" stroke-width="0.9"/>
<line x1="81.14" y1="325.7" x2="81.14" y2="328.5" stroke="#252525" stroke-width="0.9"/>
<line x1="123.97" y1="325.7" x2="123.97" y2="328.5" stroke="#252525" stroke-width="0.9"/>
<line x1="166.80" y1="325.7" x2="166.80" y2="328.5" stroke="#252525" stroke-width="0.9"/>
<line x1="59.73" y1="325.7" x2="59.73" y2="327.3" stroke="#252525" stroke-width="0.9"/>
<line x1="102.56" y1="325.7" x2="102.56" y2="327.3" stroke="#252525" stroke-width="0.9"/>
<line x1="145.39" y1="325.7" x2="145.39" y2="327.3" stroke="#252525" stroke-width="0.9"/>
<line x1="16.9" y1="325.50" x2="14.099999999999998" y2="325.50" stroke="#252525" stroke-width="0.9"/>
<line x1="16.9" y1="294.30" x2="14.099999999999998" y2="294.30" stroke="#252525" stroke-width="0.9"/>
<line x1="16.9" y1="263.90" x2="14.099999999999998" y2="263.90" stroke="#252525" stroke-width="0.9"/>
<line x1="16.9" y1="233.50" x2="14.099999999999998" y2="233.50" stroke="#252525" stroke-width="0.9"/>
<line x1="16.9" y1="203.10" x2="14.099999999999998" y2="203.10" stroke="#252525" stroke-width="0.9"/>
<line x1="16.9" y1="309.90" x2="15.299999999999999" y2="309.90" stroke="#252525" stroke-width="0.9"/>
<line x1="16.9" y1="279.10" x2="15.299999999999999" y2="279.10" stroke="#252525" stroke-width="0.9"/>
<line x1="16.9" y1="248.70" x2="15.299999999999999" y2="248.70" stroke="#252525" stroke-width="0.9"/>
<line x1="16.9" y1="218.30" x2="15.299999999999999" y2="218.30" stroke="#252525" stroke-width="0.9"/>
<text transform="translate(38.31,337.00) scale(1,1.07)" font-size="8" stroke="#1a1a1a" stroke-width="0.26" text-anchor="middle" >550</text>
<text transform="translate(81.14,337.00) scale(1,1.07)" font-size="8" stroke="#1a1a1a" stroke-width="0.26" text-anchor="middle" >600</text>
<text transform="translate(123.97,337.00) scale(1,1.07)" font-size="8" stroke="#1a1a1a" stroke-width="0.26" text-anchor="middle" >650</text>
<text transform="translate(166.80,337.00) scale(1,1.07)" font-size="8" stroke="#1a1a1a" stroke-width="0.26" text-anchor="middle" >700</text>
<text x="66.40" y="347.00" font-size="9.4" stroke="#1a1a1a" stroke-width="0.2" text-anchor="start" >Wavelength / nm</text>
<text transform="translate(8.40,328.70) rotate(-90)" font-size="9.5" stroke="#1a1a1a" stroke-width="0.2" text-anchor="start" >Phosphorescence Intensity (A.U.)</text>
<text x="22.10" y="203.00" font-size="9.6" stroke="#1a1a1a" stroke-width="0.2" text-anchor="start" >(c)</text>
<line x1="128.2" y1="274.2" x2="128.2" y2="204" stroke="#111" stroke-width="1.3"/>
<path d="M128.2 200.1 L131.1 205.3 L125.3 205.3 Z" fill="#111"/>
<line x1="216.7" y1="187.4" x2="367.5" y2="187.4" stroke="#4a4a4a" stroke-width="1"/>
<line x1="367.0" y1="187.4" x2="367.0" y2="326.1" stroke="#4a4a4a" stroke-width="1"/>
<line x1="217.2" y1="187.4" x2="217.2" y2="326.1" stroke="#686868" stroke-width="1"/>
<line x1="216.7" y1="326.1" x2="367.5" y2="326.1" stroke="#767aa0" stroke-width="1"/>
<line x1="217.20" y1="326.1" x2="217.20" y2="328.90000000000003" stroke="#252525" stroke-width="0.9"/>
<line x1="243.04" y1="326.1" x2="243.04" y2="328.90000000000003" stroke="#252525" stroke-width="0.9"/>
<line x1="268.88" y1="326.1" x2="268.88" y2="328.90000000000003" stroke="#252525" stroke-width="0.9"/>
<line x1="294.72" y1="326.1" x2="294.72" y2="328.90000000000003" stroke="#252525" stroke-width="0.9"/>
<line x1="320.56" y1="326.1" x2="320.56" y2="328.90000000000003" stroke="#252525" stroke-width="0.9"/>
<line x1="346.40" y1="326.1" x2="346.40" y2="328.90000000000003" stroke="#252525" stroke-width="0.9"/>
<line x1="230.12" y1="326.1" x2="230.12" y2="327.70000000000005" stroke="#252525" stroke-width="0.9"/>
<line x1="255.96" y1="326.1" x2="255.96" y2="327.70000000000005" stroke="#252525" stroke-width="0.9"/>
<line x1="281.80" y1="326.1" x2="281.80" y2="327.70000000000005" stroke="#252525" stroke-width="0.9"/>
<line x1="307.64" y1="326.1" x2="307.64" y2="327.70000000000005" stroke="#252525" stroke-width="0.9"/>
<line x1="333.48" y1="326.1" x2="333.48" y2="327.70000000000005" stroke="#252525" stroke-width="0.9"/>
<line x1="359.32" y1="326.1" x2="359.32" y2="327.70000000000005" stroke="#252525" stroke-width="0.9"/>
<line x1="217.2" y1="326.10" x2="214.39999999999998" y2="326.10" stroke="#252525" stroke-width="0.9"/>
<line x1="217.2" y1="299.72" x2="214.39999999999998" y2="299.72" stroke="#252525" stroke-width="0.9"/>
<line x1="217.2" y1="273.34" x2="214.39999999999998" y2="273.34" stroke="#252525" stroke-width="0.9"/>
<line x1="217.2" y1="246.96" x2="214.39999999999998" y2="246.96" stroke="#252525" stroke-width="0.9"/>
<line x1="217.2" y1="220.58" x2="214.39999999999998" y2="220.58" stroke="#252525" stroke-width="0.9"/>
<line x1="217.2" y1="194.20" x2="214.39999999999998" y2="194.20" stroke="#252525" stroke-width="0.9"/>
<line x1="217.2" y1="312.91" x2="215.6" y2="312.91" stroke="#252525" stroke-width="0.9"/>
<line x1="217.2" y1="286.53" x2="215.6" y2="286.53" stroke="#252525" stroke-width="0.9"/>
<line x1="217.2" y1="260.15" x2="215.6" y2="260.15" stroke="#252525" stroke-width="0.9"/>
<line x1="217.2" y1="233.77" x2="215.6" y2="233.77" stroke="#252525" stroke-width="0.9"/>
<line x1="217.2" y1="207.39" x2="215.6" y2="207.39" stroke="#252525" stroke-width="0.9"/>
<text transform="translate(217.20,337.30) scale(1,1.07)" font-size="8" stroke="#1a1a1a" stroke-width="0.26" text-anchor="middle" >0</text>
<text transform="translate(243.04,337.30) scale(1,1.07)" font-size="8" stroke="#1a1a1a" stroke-width="0.26" text-anchor="middle" >10</text>
<text transform="translate(268.88,337.30) scale(1,1.07)" font-size="8" stroke="#1a1a1a" stroke-width="0.26" text-anchor="middle" >20</text>
<text transform="translate(294.72,337.30) scale(1,1.07)" font-size="8" stroke="#1a1a1a" stroke-width="0.26" text-anchor="middle" >30</text>
<text transform="translate(320.56,337.30) scale(1,1.07)" font-size="8" stroke="#1a1a1a" stroke-width="0.26" text-anchor="middle" >40</text>
<text transform="translate(346.40,337.30) scale(1,1.07)" font-size="8" stroke="#1a1a1a" stroke-width="0.26" text-anchor="middle" >50</text>
<text transform="translate(212.60,327.70) scale(1,1.07)" font-size="8" stroke="#1a1a1a" stroke-width="0.26" text-anchor="end" >0</text>
<text transform="translate(212.60,301.32) scale(1,1.07)" font-size="8" stroke="#1a1a1a" stroke-width="0.26" text-anchor="end" >2</text>
<text transform="translate(212.60,274.94) scale(1,1.07)" font-size="8" stroke="#1a1a1a" stroke-width="0.26" text-anchor="end" >4</text>
<text transform="translate(212.60,248.56) scale(1,1.07)" font-size="8" stroke="#1a1a1a" stroke-width="0.26" text-anchor="end" >6</text>
<text transform="translate(212.60,222.18) scale(1,1.07)" font-size="8" stroke="#1a1a1a" stroke-width="0.26" text-anchor="end" >8</text>
<text transform="translate(212.60,195.80) scale(1,1.07)" font-size="8" stroke="#1a1a1a" stroke-width="0.26" text-anchor="end" >10</text>
<clipPath id="cd"><rect x="217.2" y="187.4" width="149.8" height="138.70000000000002"/></clipPath>
<g clip-path="url(#cd)">
<circle cx="217.20" cy="313.00" r="1.85" fill="#1530f0"/>
<circle cx="223.66" cy="313.06" r="1.85" fill="#1530f0"/>
<circle cx="230.12" cy="313.11" r="1.85" fill="#1530f0"/>
<circle cx="236.58" cy="313.17" r="1.85" fill="#1530f0"/>
<circle cx="243.04" cy="313.23" r="1.85" fill="#1530f0"/>
<circle cx="249.50" cy="313.29" r="1.85" fill="#1530f0"/>
<circle cx="255.96" cy="313.34" r="1.85" fill="#1530f0"/>
<circle cx="262.42" cy="313.40" r="1.85" fill="#1530f0"/>
<circle cx="268.88" cy="313.46" r="1.85" fill="#1530f0"/>
<circle cx="275.34" cy="313.51" r="1.85" fill="#1530f0"/>
<circle cx="281.80" cy="313.57" r="1.85" fill="#1530f0"/>
<circle cx="288.26" cy="313.63" r="1.85" fill="#1530f0"/>
<circle cx="294.72" cy="313.69" r="1.85" fill="#1530f0"/>
<circle cx="301.18" cy="313.74" r="1.85" fill="#1530f0"/>
<circle cx="307.64" cy="313.80" r="1.85" fill="#1530f0"/>
<circle cx="314.10" cy="313.86" r="1.85" fill="#1530f0"/>
<circle cx="320.56" cy="313.91" r="1.85" fill="#1530f0"/>
<circle cx="327.02" cy="313.97" r="1.85" fill="#1530f0"/>
<circle cx="333.48" cy="314.03" r="1.85" fill="#1530f0"/>
<circle cx="339.94" cy="314.09" r="1.85" fill="#1530f0"/>
<circle cx="346.40" cy="314.14" r="1.85" fill="#1530f0"/>
<circle cx="352.86" cy="314.20" r="1.85" fill="#1530f0"/>
<circle cx="217.20" cy="312.80" r="1.85" fill="#ff1010"/>
<circle cx="223.66" cy="303.80" r="1.85" fill="#ff1010"/>
<circle cx="230.12" cy="297.80" r="1.85" fill="#ff1010"/>
<circle cx="236.58" cy="291.60" r="1.85" fill="#ff1010"/>
<circle cx="243.04" cy="285.60" r="1.85" fill="#ff1010"/>
<circle cx="249.50" cy="277.90" r="1.85" fill="#ff1010"/>
<circle cx="255.96" cy="270.90" r="1.85" fill="#ff1010"/>
<circle cx="262.42" cy="262.30" r="1.85" fill="#ff1010"/>
<circle cx="268.88" cy="253.60" r="1.85" fill="#ff1010"/>
<circle cx="275.34" cy="246.40" r="1.85" fill="#ff1010"/>
<circle cx="281.80" cy="241.30" r="1.85" fill="#ff1010"/>
<circle cx="288.26" cy="234.80" r="1.85" fill="#ff1010"/>
<circle cx="294.72" cy="225.30" r="1.85" fill="#ff1010"/>
<circle cx="301.18" cy="218.30" r="1.85" fill="#ff1010"/>
<circle cx="307.64" cy="211.80" r="1.85" fill="#ff1010"/>
<circle cx="314.10" cy="208.10" r="1.85" fill="#ff1010"/>
<circle cx="320.56" cy="206.00" r="1.85" fill="#ff1010"/>
<circle cx="327.02" cy="204.30" r="1.85" fill="#ff1010"/>
<circle cx="333.48" cy="203.90" r="1.85" fill="#ff1010"/>
<circle cx="339.94" cy="203.70" r="1.85" fill="#ff1010"/>
<circle cx="346.40" cy="203.20" r="1.85" fill="#ff1010"/>
<circle cx="352.86" cy="203.20" r="1.85" fill="#ff1010"/>
</g>
<text x="277.40" y="347.60" font-size="9.5" stroke="#1a1a1a" stroke-width="0.2" text-anchor="start" >[ClO<tspan font-size="6" dy="-3.4">-</tspan><tspan dy="3.4">] / μM</tspan></text>
<text transform="translate(197.20,263.00) rotate(-90)" font-size="9.4" stroke="#1a1a1a" stroke-width="0.2" text-anchor="start" ><tspan font-style="italic">I</tspan> / <tspan font-style="italic">I</tspan><tspan font-size="6.8" dy="1.2">o</tspan></text>
<text x="222.60" y="202.80" font-size="9.6" stroke="#1a1a1a" stroke-width="0.2" text-anchor="start" >(d)</text>
</svg></body></html>
